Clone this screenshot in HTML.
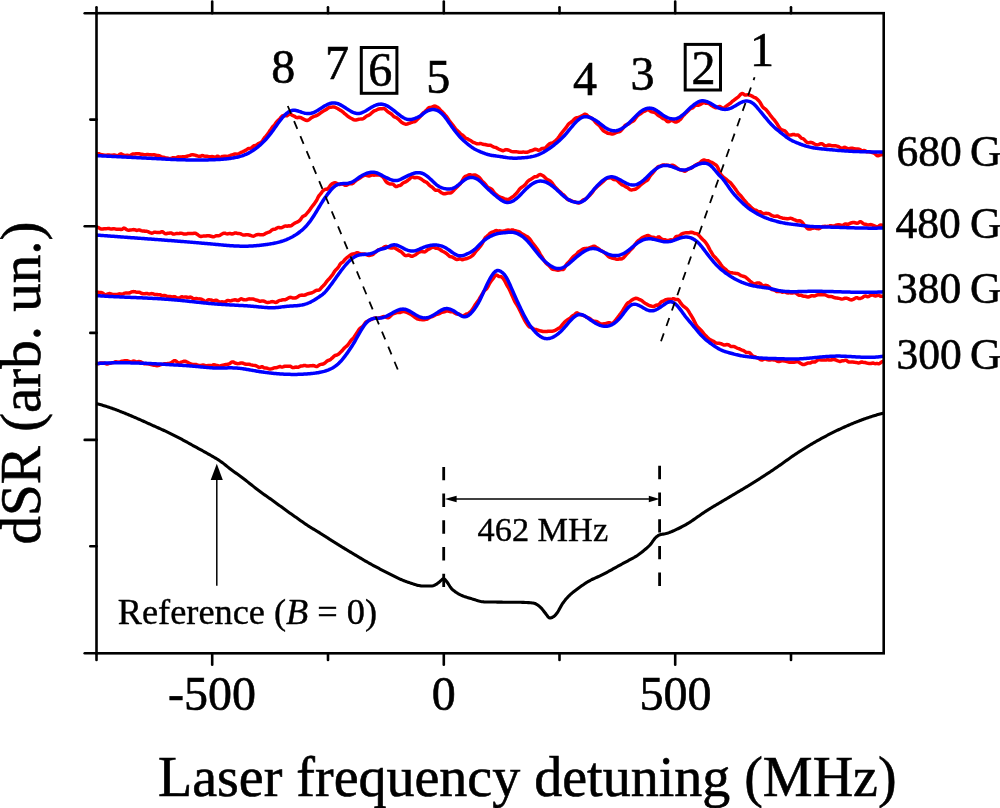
<!DOCTYPE html>
<html><head><meta charset="utf-8"><style>
html,body{margin:0;padding:0;background:#fff;overflow:hidden;}
svg{display:block;}
text{font-family:"Liberation Serif","Times New Roman",serif;fill:#000;stroke:#000;stroke-width:0.6px;}
</style></head><body>
<svg width="1000" height="808" viewBox="0 0 1000 808">
<rect width="1000" height="808" fill="#fff"/>
<g fill="none" stroke-width="3.5" stroke-linejoin="round" stroke-linecap="butt">
<path d="M96.0,153.72 L97.0,153.76 L98.0,153.70 L99.0,153.78 L100.0,154.12 L101.0,154.41 L102.0,154.60 L103.0,154.84 L104.0,155.06 L105.0,155.16 L106.0,155.17 L107.0,155.09 L108.0,154.95 L109.0,154.95 L110.0,155.15 L111.0,155.34 L112.0,155.31 L113.0,155.10 L114.0,154.97 L115.0,155.07 L116.0,155.33 L117.0,155.64 L118.0,155.69 L119.0,155.06 L120.0,154.15 L121.0,153.85 L122.0,154.26 L123.0,154.81 L124.0,155.27 L125.0,155.60 L126.0,155.57 L127.0,155.29 L128.0,155.34 L129.0,155.65 L130.0,155.59 L131.0,155.02 L132.0,154.31 L133.0,153.94 L134.0,153.96 L135.0,153.94 L136.0,153.75 L137.0,153.68 L138.0,153.74 L139.0,153.84 L140.0,154.01 L141.0,154.18 L142.0,154.27 L143.0,154.42 L144.0,154.70 L145.0,154.83 L146.0,154.69 L147.0,154.53 L148.0,154.58 L149.0,154.70 L150.0,154.77 L151.0,154.84 L152.0,154.92 L153.0,154.85 L154.0,154.77 L155.0,154.99 L156.0,155.34 L157.0,155.48 L158.0,155.45 L159.0,155.64 L160.0,156.10 L161.0,156.61 L162.0,156.99 L163.0,157.14 L164.0,157.27 L165.0,157.69 L166.0,158.07 L167.0,158.11 L168.0,158.17 L169.0,158.47 L170.0,158.71 L171.0,158.55 L172.0,158.07 L173.0,157.68 L174.0,157.69 L175.0,157.90 L176.0,157.89 L177.0,157.43 L178.0,156.88 L179.0,156.83 L180.0,157.11 L181.0,157.12 L182.0,156.84 L183.0,156.67 L184.0,156.72 L185.0,156.74 L186.0,156.59 L187.0,156.26 L188.0,155.91 L189.0,155.64 L190.0,155.28 L191.0,154.89 L192.0,154.79 L193.0,154.86 L194.0,154.93 L195.0,155.14 L196.0,155.46 L197.0,155.79 L198.0,156.07 L199.0,156.33 L200.0,156.37 L201.0,156.01 L202.0,155.61 L203.0,155.71 L204.0,156.12 L205.0,156.24 L206.0,156.17 L207.0,156.29 L208.0,156.58 L209.0,156.79 L210.0,156.78 L211.0,156.64 L212.0,156.57 L213.0,156.64 L214.0,156.87 L215.0,157.13 L216.0,156.95 L217.0,156.36 L218.0,156.29 L219.0,157.00 L220.0,157.41 L221.0,157.01 L222.0,156.54 L223.0,156.40 L224.0,156.31 L225.0,156.26 L226.0,156.34 L227.0,156.40 L228.0,156.29 L229.0,156.03 L230.0,155.63 L231.0,155.20 L232.0,154.85 L233.0,154.56 L234.0,154.26 L235.0,154.01 L236.0,154.02 L237.0,154.13 L238.0,153.94 L239.0,153.48 L240.0,152.97 L241.0,152.46 L242.0,152.05 L243.0,151.67 L244.0,151.16 L245.0,150.61 L246.0,150.08 L247.0,149.41 L248.0,148.74 L249.0,148.41 L250.0,148.38 L251.0,148.13 L252.0,147.37 L253.0,146.44 L254.0,145.79 L255.0,145.56 L256.0,145.28 L257.0,144.61 L258.0,143.86 L259.0,143.34 L260.0,142.94 L261.0,142.41 L262.0,141.45 L263.0,140.01 L264.0,138.47 L265.0,137.19 L266.0,136.10 L267.0,134.95 L268.0,133.62 L269.0,132.09 L270.0,130.59 L271.0,129.19 L272.0,127.72 L273.0,126.40 L274.0,125.40 L275.0,124.32 L276.0,122.86 L277.0,121.41 L278.0,120.45 L279.0,119.73 L280.0,118.56 L281.0,117.15 L282.0,116.19 L283.0,115.71 L284.0,115.49 L285.0,115.53 L286.0,115.73 L287.0,115.67 L288.0,115.04 L289.0,114.25 L290.0,114.03 L291.0,114.47 L292.0,115.17 L293.0,115.71 L294.0,116.08 L295.0,116.64 L296.0,117.38 L297.0,117.68 L298.0,117.46 L299.0,117.29 L300.0,117.39 L301.0,117.73 L302.0,118.32 L303.0,118.97 L304.0,119.42 L305.0,119.86 L306.0,120.30 L307.0,120.47 L308.0,120.28 L309.0,119.75 L310.0,118.93 L311.0,118.04 L312.0,117.35 L313.0,116.86 L314.0,116.45 L315.0,116.10 L316.0,115.80 L317.0,115.42 L318.0,114.83 L319.0,114.09 L320.0,113.31 L321.0,112.57 L322.0,111.95 L323.0,111.35 L324.0,110.67 L325.0,110.13 L326.0,109.72 L327.0,109.07 L328.0,108.17 L329.0,107.52 L330.0,107.34 L331.0,107.25 L332.0,107.12 L333.0,107.08 L334.0,107.08 L335.0,107.25 L336.0,107.73 L337.0,108.28 L338.0,108.78 L339.0,109.43 L340.0,110.15 L341.0,110.64 L342.0,111.20 L343.0,112.10 L344.0,113.09 L345.0,113.94 L346.0,114.72 L347.0,115.51 L348.0,116.29 L349.0,117.03 L350.0,117.70 L351.0,118.21 L352.0,118.74 L353.0,119.39 L354.0,119.87 L355.0,120.02 L356.0,119.98 L357.0,119.79 L358.0,119.46 L359.0,119.24 L360.0,119.13 L361.0,119.00 L362.0,118.90 L363.0,118.73 L364.0,118.20 L365.0,117.35 L366.0,116.52 L367.0,115.87 L368.0,115.50 L369.0,115.17 L370.0,114.41 L371.0,113.47 L372.0,112.64 L373.0,111.75 L374.0,111.01 L375.0,110.67 L376.0,110.32 L377.0,109.75 L378.0,109.24 L379.0,108.92 L380.0,108.76 L381.0,108.75 L382.0,108.67 L383.0,108.50 L384.0,108.57 L385.0,109.11 L386.0,109.99 L387.0,110.99 L388.0,111.86 L389.0,112.55 L390.0,113.11 L391.0,113.69 L392.0,114.55 L393.0,115.69 L394.0,116.62 L395.0,117.09 L396.0,117.48 L397.0,118.09 L398.0,118.84 L399.0,119.70 L400.0,120.69 L401.0,121.73 L402.0,122.61 L403.0,123.19 L404.0,123.62 L405.0,123.97 L406.0,124.18 L407.0,124.12 L408.0,123.75 L409.0,123.33 L410.0,123.05 L411.0,122.71 L412.0,122.27 L413.0,121.90 L414.0,121.71 L415.0,121.48 L416.0,120.83 L417.0,119.81 L418.0,118.83 L419.0,117.92 L420.0,116.84 L421.0,115.54 L422.0,114.25 L423.0,113.16 L424.0,112.29 L425.0,111.53 L426.0,110.65 L427.0,109.56 L428.0,108.49 L429.0,107.75 L430.0,107.43 L431.0,107.32 L432.0,107.14 L433.0,106.69 L434.0,106.16 L435.0,106.09 L436.0,106.46 L437.0,106.96 L438.0,107.54 L439.0,108.45 L440.0,109.65 L441.0,110.77 L442.0,111.63 L443.0,112.51 L444.0,113.69 L445.0,114.95 L446.0,115.99 L447.0,117.13 L448.0,118.67 L449.0,120.28 L450.0,121.66 L451.0,122.86 L452.0,124.05 L453.0,125.29 L454.0,126.66 L455.0,128.10 L456.0,129.46 L457.0,130.48 L458.0,131.23 L459.0,132.11 L460.0,133.22 L461.0,134.22 L462.0,134.86 L463.0,135.46 L464.0,136.48 L465.0,137.64 L466.0,138.31 L467.0,138.61 L468.0,139.14 L469.0,139.78 L470.0,140.19 L471.0,140.75 L472.0,141.60 L473.0,142.25 L474.0,142.59 L475.0,142.96 L476.0,143.45 L477.0,143.81 L478.0,143.87 L479.0,143.69 L480.0,143.48 L481.0,143.55 L482.0,143.94 L483.0,144.30 L484.0,144.40 L485.0,144.47 L486.0,144.77 L487.0,145.06 L488.0,145.14 L489.0,145.14 L490.0,145.20 L491.0,145.51 L492.0,146.12 L493.0,146.72 L494.0,147.12 L495.0,147.38 L496.0,147.58 L497.0,148.04 L498.0,148.77 L499.0,149.34 L500.0,149.62 L501.0,150.02 L502.0,150.51 L503.0,150.71 L504.0,150.42 L505.0,149.86 L506.0,149.62 L507.0,149.83 L508.0,150.06 L509.0,150.27 L510.0,150.73 L511.0,151.31 L512.0,151.63 L513.0,151.71 L514.0,151.79 L515.0,151.83 L516.0,151.81 L517.0,151.86 L518.0,152.03 L519.0,152.19 L520.0,152.24 L521.0,152.20 L522.0,152.13 L523.0,152.05 L524.0,152.11 L525.0,152.28 L526.0,152.32 L527.0,152.21 L528.0,152.00 L529.0,151.57 L530.0,151.04 L531.0,150.74 L532.0,150.57 L533.0,150.18 L534.0,149.62 L535.0,149.27 L536.0,149.31 L537.0,149.69 L538.0,150.14 L539.0,150.26 L540.0,149.84 L541.0,149.11 L542.0,148.53 L543.0,148.36 L544.0,148.44 L545.0,148.23 L546.0,147.39 L547.0,146.23 L548.0,145.15 L549.0,144.23 L550.0,143.54 L551.0,143.16 L552.0,142.95 L553.0,142.60 L554.0,141.98 L555.0,141.25 L556.0,140.37 L557.0,139.29 L558.0,138.11 L559.0,136.73 L560.0,135.26 L561.0,133.90 L562.0,132.63 L563.0,131.36 L564.0,130.17 L565.0,128.98 L566.0,127.65 L567.0,126.16 L568.0,124.76 L569.0,123.66 L570.0,122.93 L571.0,122.26 L572.0,121.43 L573.0,120.49 L574.0,119.48 L575.0,118.54 L576.0,117.93 L577.0,117.65 L578.0,117.48 L579.0,117.27 L580.0,116.90 L581.0,116.35 L582.0,115.83 L583.0,115.30 L584.0,114.63 L585.0,114.16 L586.0,114.35 L587.0,115.16 L588.0,116.09 L589.0,116.77 L590.0,117.31 L591.0,117.90 L592.0,118.52 L593.0,119.30 L594.0,120.41 L595.0,121.65 L596.0,122.87 L597.0,123.88 L598.0,124.50 L599.0,125.19 L600.0,126.39 L601.0,127.84 L602.0,129.17 L603.0,130.36 L604.0,131.27 L605.0,131.76 L606.0,132.17 L607.0,132.82 L608.0,133.33 L609.0,133.38 L610.0,133.41 L611.0,133.74 L612.0,134.03 L613.0,133.95 L614.0,133.54 L615.0,133.09 L616.0,132.71 L617.0,132.25 L618.0,131.91 L619.0,131.82 L620.0,131.40 L621.0,130.44 L622.0,129.42 L623.0,128.28 L624.0,126.83 L625.0,125.54 L626.0,124.84 L627.0,124.53 L628.0,124.25 L629.0,123.74 L630.0,122.89 L631.0,122.08 L632.0,121.64 L633.0,121.23 L634.0,120.34 L635.0,119.06 L636.0,117.70 L637.0,116.43 L638.0,115.36 L639.0,114.60 L640.0,114.04 L641.0,113.41 L642.0,112.58 L643.0,111.84 L644.0,111.45 L645.0,111.06 L646.0,110.44 L647.0,109.88 L648.0,109.71 L649.0,110.10 L650.0,110.93 L651.0,111.65 L652.0,111.94 L653.0,112.02 L654.0,112.20 L655.0,112.62 L656.0,113.37 L657.0,114.39 L658.0,115.31 L659.0,115.86 L660.0,116.26 L661.0,116.92 L662.0,117.87 L663.0,118.65 L664.0,118.94 L665.0,119.31 L666.0,120.27 L667.0,121.32 L668.0,121.79 L669.0,121.63 L670.0,121.04 L671.0,120.41 L672.0,120.29 L673.0,120.76 L674.0,121.46 L675.0,121.94 L676.0,122.00 L677.0,121.72 L678.0,121.22 L679.0,120.51 L680.0,119.70 L681.0,118.68 L682.0,117.27 L683.0,115.88 L684.0,114.89 L685.0,113.93 L686.0,112.85 L687.0,111.94 L688.0,111.00 L689.0,109.87 L690.0,108.91 L691.0,108.37 L692.0,108.08 L693.0,107.60 L694.0,106.63 L695.0,105.59 L696.0,105.18 L697.0,105.33 L698.0,105.34 L699.0,104.98 L700.0,104.56 L701.0,104.13 L702.0,103.44 L703.0,102.73 L704.0,102.52 L705.0,102.92 L706.0,103.33 L707.0,103.31 L708.0,103.27 L709.0,103.64 L710.0,104.40 L711.0,105.18 L712.0,105.80 L713.0,106.37 L714.0,106.93 L715.0,107.43 L716.0,107.68 L717.0,107.47 L718.0,106.94 L719.0,106.57 L720.0,106.62 L721.0,107.08 L722.0,107.76 L723.0,108.25 L724.0,108.01 L725.0,107.21 L726.0,106.46 L727.0,105.74 L728.0,104.90 L729.0,104.23 L730.0,103.60 L731.0,102.67 L732.0,101.70 L733.0,100.93 L734.0,100.23 L735.0,99.45 L736.0,98.64 L737.0,97.86 L738.0,97.09 L739.0,96.18 L740.0,95.06 L741.0,94.02 L742.0,93.51 L743.0,93.70 L744.0,94.39 L745.0,95.00 L746.0,95.09 L747.0,94.86 L748.0,94.77 L749.0,94.98 L750.0,95.29 L751.0,95.58 L752.0,96.03 L753.0,96.72 L754.0,97.31 L755.0,97.65 L756.0,98.13 L757.0,98.97 L758.0,100.00 L759.0,101.01 L760.0,102.29 L761.0,104.10 L762.0,105.95 L763.0,107.31 L764.0,108.18 L765.0,108.79 L766.0,109.58 L767.0,110.77 L768.0,112.06 L769.0,113.39 L770.0,114.87 L771.0,116.22 L772.0,117.40 L773.0,118.55 L774.0,119.71 L775.0,120.95 L776.0,122.29 L777.0,123.76 L778.0,125.41 L779.0,127.11 L780.0,128.50 L781.0,129.34 L782.0,129.82 L783.0,130.24 L784.0,130.57 L785.0,130.96 L786.0,131.95 L787.0,133.34 L788.0,134.43 L789.0,134.97 L790.0,135.13 L791.0,135.05 L792.0,134.73 L793.0,134.44 L794.0,134.51 L795.0,134.89 L796.0,135.12 L797.0,134.95 L798.0,134.88 L799.0,135.57 L800.0,136.82 L801.0,137.84 L802.0,138.31 L803.0,138.62 L804.0,139.35 L805.0,140.44 L806.0,141.48 L807.0,142.33 L808.0,142.74 L809.0,142.64 L810.0,142.41 L811.0,142.37 L812.0,142.59 L813.0,143.05 L814.0,143.64 L815.0,144.24 L816.0,144.72 L817.0,144.87 L818.0,144.68 L819.0,144.34 L820.0,143.95 L821.0,143.71 L822.0,143.84 L823.0,144.39 L824.0,145.16 L825.0,145.73 L826.0,145.84 L827.0,145.60 L828.0,145.28 L829.0,145.07 L830.0,145.17 L831.0,145.51 L832.0,145.72 L833.0,145.74 L834.0,145.70 L835.0,145.71 L836.0,145.85 L837.0,146.09 L838.0,146.37 L839.0,146.88 L840.0,147.59 L841.0,148.14 L842.0,148.20 L843.0,147.82 L844.0,147.41 L845.0,147.36 L846.0,147.76 L847.0,148.41 L848.0,148.84 L849.0,148.77 L850.0,148.48 L851.0,148.34 L852.0,148.30 L853.0,148.37 L854.0,148.61 L855.0,148.83 L856.0,148.90 L857.0,148.97 L858.0,149.05 L859.0,149.17 L860.0,149.56 L861.0,150.20 L862.0,150.73 L863.0,150.79 L864.0,150.53 L865.0,150.67 L866.0,151.34 L867.0,151.79 L868.0,151.75 L869.0,151.71 L870.0,151.91 L871.0,152.18 L872.0,152.43 L873.0,152.74 L874.0,153.15 L875.0,153.81 L876.0,154.74 L877.0,155.54 L878.0,155.79 L879.0,155.55 L880.0,155.05 L881.0,154.62 L882.0,154.56 L883.0,154.76 L884.0,154.81" stroke="#ff0000"/>
<path d="M96.0,155.63 L97.0,155.66 L98.0,155.70 L99.0,155.75 L100.0,155.80 L101.0,155.85 L102.0,155.90 L103.0,155.95 L104.0,156.00 L105.0,156.05 L106.0,156.10 L107.0,156.15 L108.0,156.20 L109.0,156.25 L110.0,156.30 L111.0,156.35 L112.0,156.40 L113.0,156.45 L114.0,156.50 L115.0,156.55 L116.0,156.60 L117.0,156.65 L118.0,156.70 L119.0,156.75 L120.0,156.80 L121.0,156.85 L122.0,156.90 L123.0,156.95 L124.0,157.00 L125.0,157.05 L126.0,157.10 L127.0,157.15 L128.0,157.20 L129.0,157.25 L130.0,157.30 L131.0,157.35 L132.0,157.40 L133.0,157.45 L134.0,157.50 L135.0,157.55 L136.0,157.60 L137.0,157.65 L138.0,157.70 L139.0,157.75 L140.0,157.80 L141.0,157.84 L142.0,157.89 L143.0,157.94 L144.0,157.99 L145.0,158.04 L146.0,158.09 L147.0,158.14 L148.0,158.19 L149.0,158.24 L150.0,158.29 L151.0,158.34 L152.0,158.39 L153.0,158.44 L154.0,158.50 L155.0,158.55 L156.0,158.60 L157.0,158.65 L158.0,158.71 L159.0,158.76 L160.0,158.82 L161.0,158.87 L162.0,158.92 L163.0,158.98 L164.0,159.03 L165.0,159.08 L166.0,159.13 L167.0,159.19 L168.0,159.24 L169.0,159.29 L170.0,159.34 L171.0,159.38 L172.0,159.43 L173.0,159.47 L174.0,159.52 L175.0,159.56 L176.0,159.60 L177.0,159.64 L178.0,159.67 L179.0,159.71 L180.0,159.74 L181.0,159.77 L182.0,159.80 L183.0,159.82 L184.0,159.85 L185.0,159.87 L186.0,159.89 L187.0,159.91 L188.0,159.93 L189.0,159.94 L190.0,159.95 L191.0,159.97 L192.0,159.98 L193.0,159.98 L194.0,159.99 L195.0,160.00 L196.0,160.00 L197.0,160.00 L198.0,160.00 L199.0,160.00 L200.0,159.99 L201.0,159.98 L202.0,159.98 L203.0,159.97 L204.0,159.95 L205.0,159.94 L206.0,159.92 L207.0,159.90 L208.0,159.88 L209.0,159.85 L210.0,159.82 L211.0,159.79 L212.0,159.76 L213.0,159.72 L214.0,159.68 L215.0,159.64 L216.0,159.60 L217.0,159.55 L218.0,159.49 L219.0,159.44 L220.0,159.38 L221.0,159.31 L222.0,159.24 L223.0,159.16 L224.0,159.08 L225.0,158.98 L226.0,158.89 L227.0,158.78 L228.0,158.66 L229.0,158.54 L230.0,158.41 L231.0,158.26 L232.0,158.11 L233.0,157.95 L234.0,157.77 L235.0,157.58 L236.0,157.39 L237.0,157.17 L238.0,156.94 L239.0,156.70 L240.0,156.43 L241.0,156.15 L242.0,155.84 L243.0,155.50 L244.0,155.14 L245.0,154.74 L246.0,154.32 L247.0,153.86 L248.0,153.37 L249.0,152.84 L250.0,152.29 L251.0,151.70 L252.0,151.08 L253.0,150.43 L254.0,149.76 L255.0,149.05 L256.0,148.32 L257.0,147.56 L258.0,146.77 L259.0,145.95 L260.0,145.10 L261.0,144.21 L262.0,143.29 L263.0,142.33 L264.0,141.34 L265.0,140.30 L266.0,139.22 L267.0,138.10 L268.0,136.94 L269.0,135.72 L270.0,134.46 L271.0,133.15 L272.0,131.79 L273.0,130.40 L274.0,128.99 L275.0,127.56 L276.0,126.14 L277.0,124.72 L278.0,123.32 L279.0,121.96 L280.0,120.63 L281.0,119.36 L282.0,118.14 L283.0,116.98 L284.0,115.89 L285.0,114.87 L286.0,113.93 L287.0,113.08 L288.0,112.33 L289.0,111.69 L290.0,111.16 L291.0,110.76 L292.0,110.49 L293.0,110.33 L294.0,110.29 L295.0,110.35 L296.0,110.50 L297.0,110.72 L298.0,111.00 L299.0,111.32 L300.0,111.66 L301.0,112.00 L302.0,112.34 L303.0,112.65 L304.0,112.93 L305.0,113.18 L306.0,113.38 L307.0,113.52 L308.0,113.59 L309.0,113.58 L310.0,113.50 L311.0,113.32 L312.0,113.07 L313.0,112.73 L314.0,112.32 L315.0,111.86 L316.0,111.33 L317.0,110.77 L318.0,110.17 L319.0,109.55 L320.0,108.90 L321.0,108.26 L322.0,107.61 L323.0,106.98 L324.0,106.36 L325.0,105.77 L326.0,105.22 L327.0,104.70 L328.0,104.24 L329.0,103.83 L330.0,103.49 L331.0,103.22 L332.0,103.03 L333.0,102.92 L334.0,102.91 L335.0,102.99 L336.0,103.16 L337.0,103.41 L338.0,103.74 L339.0,104.14 L340.0,104.60 L341.0,105.12 L342.0,105.68 L343.0,106.28 L344.0,106.90 L345.0,107.55 L346.0,108.20 L347.0,108.86 L348.0,109.51 L349.0,110.15 L350.0,110.76 L351.0,111.33 L352.0,111.86 L353.0,112.33 L354.0,112.73 L355.0,113.05 L356.0,113.29 L357.0,113.44 L358.0,113.48 L359.0,113.42 L360.0,113.25 L361.0,113.00 L362.0,112.65 L363.0,112.24 L364.0,111.76 L365.0,111.24 L366.0,110.67 L367.0,110.07 L368.0,109.46 L369.0,108.83 L370.0,108.22 L371.0,107.61 L372.0,107.02 L373.0,106.47 L374.0,105.95 L375.0,105.49 L376.0,105.07 L377.0,104.72 L378.0,104.44 L379.0,104.25 L380.0,104.13 L381.0,104.11 L382.0,104.18 L383.0,104.35 L384.0,104.60 L385.0,104.94 L386.0,105.35 L387.0,105.83 L388.0,106.37 L389.0,106.97 L390.0,107.62 L391.0,108.32 L392.0,109.06 L393.0,109.83 L394.0,110.62 L395.0,111.43 L396.0,112.25 L397.0,113.08 L398.0,113.89 L399.0,114.68 L400.0,115.45 L401.0,116.18 L402.0,116.86 L403.0,117.48 L404.0,118.04 L405.0,118.52 L406.0,118.92 L407.0,119.22 L408.0,119.43 L409.0,119.52 L410.0,119.52 L411.0,119.42 L412.0,119.24 L413.0,119.00 L414.0,118.69 L415.0,118.35 L416.0,117.98 L417.0,117.59 L418.0,117.17 L419.0,116.70 L420.0,116.15 L421.0,115.50 L422.0,114.76 L423.0,113.97 L424.0,113.17 L425.0,112.41 L426.0,111.73 L427.0,111.15 L428.0,110.67 L429.0,110.27 L430.0,109.96 L431.0,109.72 L432.0,109.57 L433.0,109.51 L434.0,109.55 L435.0,109.70 L436.0,109.96 L437.0,110.32 L438.0,110.79 L439.0,111.38 L440.0,112.07 L441.0,112.88 L442.0,113.79 L443.0,114.81 L444.0,115.94 L445.0,117.16 L446.0,118.46 L447.0,119.83 L448.0,121.24 L449.0,122.68 L450.0,124.11 L451.0,125.53 L452.0,126.93 L453.0,128.30 L454.0,129.64 L455.0,130.96 L456.0,132.25 L457.0,133.50 L458.0,134.70 L459.0,135.87 L460.0,136.98 L461.0,138.03 L462.0,139.04 L463.0,140.01 L464.0,140.93 L465.0,141.81 L466.0,142.67 L467.0,143.50 L468.0,144.31 L469.0,145.09 L470.0,145.86 L471.0,146.61 L472.0,147.32 L473.0,148.00 L474.0,148.64 L475.0,149.23 L476.0,149.78 L477.0,150.29 L478.0,150.76 L479.0,151.21 L480.0,151.64 L481.0,152.06 L482.0,152.47 L483.0,152.86 L484.0,153.23 L485.0,153.59 L486.0,153.93 L487.0,154.24 L488.0,154.53 L489.0,154.79 L490.0,155.03 L491.0,155.23 L492.0,155.42 L493.0,155.58 L494.0,155.73 L495.0,155.86 L496.0,155.99 L497.0,156.12 L498.0,156.24 L499.0,156.37 L500.0,156.51 L501.0,156.66 L502.0,156.82 L503.0,156.98 L504.0,157.15 L505.0,157.31 L506.0,157.47 L507.0,157.62 L508.0,157.76 L509.0,157.87 L510.0,157.97 L511.0,158.05 L512.0,158.11 L513.0,158.15 L514.0,158.16 L515.0,158.16 L516.0,158.15 L517.0,158.13 L518.0,158.09 L519.0,158.05 L520.0,157.99 L521.0,157.94 L522.0,157.87 L523.0,157.80 L524.0,157.72 L525.0,157.63 L526.0,157.53 L527.0,157.42 L528.0,157.29 L529.0,157.14 L530.0,156.98 L531.0,156.79 L532.0,156.59 L533.0,156.36 L534.0,156.10 L535.0,155.82 L536.0,155.51 L537.0,155.17 L538.0,154.80 L539.0,154.40 L540.0,153.96 L541.0,153.49 L542.0,152.98 L543.0,152.45 L544.0,151.88 L545.0,151.29 L546.0,150.67 L547.0,150.03 L548.0,149.36 L549.0,148.68 L550.0,147.98 L551.0,147.27 L552.0,146.53 L553.0,145.79 L554.0,145.02 L555.0,144.23 L556.0,143.43 L557.0,142.60 L558.0,141.75 L559.0,140.87 L560.0,139.97 L561.0,139.04 L562.0,138.07 L563.0,137.07 L564.0,136.03 L565.0,134.95 L566.0,133.82 L567.0,132.65 L568.0,131.45 L569.0,130.23 L570.0,129.00 L571.0,127.76 L572.0,126.54 L573.0,125.34 L574.0,124.18 L575.0,123.07 L576.0,122.02 L577.0,121.05 L578.0,120.15 L579.0,119.33 L580.0,118.61 L581.0,117.99 L582.0,117.47 L583.0,117.07 L584.0,116.80 L585.0,116.65 L586.0,116.63 L587.0,116.72 L588.0,116.92 L589.0,117.21 L590.0,117.56 L591.0,117.97 L592.0,118.42 L593.0,118.92 L594.0,119.46 L595.0,120.04 L596.0,120.66 L597.0,121.32 L598.0,122.02 L599.0,122.76 L600.0,123.54 L601.0,124.34 L602.0,125.15 L603.0,125.94 L604.0,126.71 L605.0,127.41 L606.0,128.05 L607.0,128.62 L608.0,129.12 L609.0,129.56 L610.0,129.95 L611.0,130.28 L612.0,130.56 L613.0,130.76 L614.0,130.86 L615.0,130.87 L616.0,130.77 L617.0,130.56 L618.0,130.26 L619.0,129.88 L620.0,129.45 L621.0,128.95 L622.0,128.41 L623.0,127.81 L624.0,127.15 L625.0,126.42 L626.0,125.63 L627.0,124.78 L628.0,123.88 L629.0,122.94 L630.0,121.99 L631.0,121.01 L632.0,120.03 L633.0,119.03 L634.0,118.01 L635.0,116.98 L636.0,115.95 L637.0,114.92 L638.0,113.92 L639.0,112.98 L640.0,112.11 L641.0,111.33 L642.0,110.64 L643.0,110.04 L644.0,109.52 L645.0,109.08 L646.0,108.72 L647.0,108.44 L648.0,108.24 L649.0,108.13 L650.0,108.12 L651.0,108.21 L652.0,108.41 L653.0,108.71 L654.0,109.11 L655.0,109.60 L656.0,110.17 L657.0,110.82 L658.0,111.51 L659.0,112.25 L660.0,113.00 L661.0,113.75 L662.0,114.48 L663.0,115.18 L664.0,115.83 L665.0,116.42 L666.0,116.95 L667.0,117.41 L668.0,117.81 L669.0,118.15 L670.0,118.44 L671.0,118.68 L672.0,118.85 L673.0,118.95 L674.0,118.96 L675.0,118.87 L676.0,118.68 L677.0,118.38 L678.0,117.98 L679.0,117.49 L680.0,116.91 L681.0,116.26 L682.0,115.53 L683.0,114.73 L684.0,113.86 L685.0,112.94 L686.0,111.98 L687.0,110.98 L688.0,109.99 L689.0,109.01 L690.0,108.07 L691.0,107.17 L692.0,106.33 L693.0,105.53 L694.0,104.76 L695.0,104.02 L696.0,103.31 L697.0,102.65 L698.0,102.05 L699.0,101.54 L700.0,101.16 L701.0,100.91 L702.0,100.78 L703.0,100.78 L704.0,100.89 L705.0,101.08 L706.0,101.35 L707.0,101.69 L708.0,102.09 L709.0,102.55 L710.0,103.05 L711.0,103.60 L712.0,104.18 L713.0,104.78 L714.0,105.38 L715.0,105.97 L716.0,106.54 L717.0,107.08 L718.0,107.58 L719.0,108.03 L720.0,108.43 L721.0,108.77 L722.0,109.04 L723.0,109.24 L724.0,109.36 L725.0,109.40 L726.0,109.36 L727.0,109.24 L728.0,109.04 L729.0,108.77 L730.0,108.43 L731.0,108.03 L732.0,107.58 L733.0,107.08 L734.0,106.54 L735.0,105.98 L736.0,105.39 L737.0,104.79 L738.0,104.19 L739.0,103.60 L740.0,103.04 L741.0,102.52 L742.0,102.05 L743.0,101.66 L744.0,101.34 L745.0,101.12 L746.0,101.01 L747.0,101.01 L748.0,101.12 L749.0,101.35 L750.0,101.68 L751.0,102.13 L752.0,102.70 L753.0,103.39 L754.0,104.20 L755.0,105.13 L756.0,106.18 L757.0,107.31 L758.0,108.51 L759.0,109.74 L760.0,110.98 L761.0,112.20 L762.0,113.42 L763.0,114.62 L764.0,115.81 L765.0,117.01 L766.0,118.22 L767.0,119.43 L768.0,120.63 L769.0,121.80 L770.0,122.95 L771.0,124.05 L772.0,125.10 L773.0,126.10 L774.0,127.05 L775.0,127.95 L776.0,128.81 L777.0,129.63 L778.0,130.43 L779.0,131.22 L780.0,132.01 L781.0,132.80 L782.0,133.60 L783.0,134.40 L784.0,135.20 L785.0,135.98 L786.0,136.74 L787.0,137.47 L788.0,138.17 L789.0,138.83 L790.0,139.45 L791.0,140.03 L792.0,140.56 L793.0,141.06 L794.0,141.53 L795.0,141.98 L796.0,142.41 L797.0,142.82 L798.0,143.22 L799.0,143.61 L800.0,143.99 L801.0,144.37 L802.0,144.74 L803.0,145.09 L804.0,145.44 L805.0,145.77 L806.0,146.08 L807.0,146.37 L808.0,146.64 L809.0,146.89 L810.0,147.13 L811.0,147.35 L812.0,147.55 L813.0,147.74 L814.0,147.91 L815.0,148.07 L816.0,148.22 L817.0,148.35 L818.0,148.48 L819.0,148.60 L820.0,148.71 L821.0,148.82 L822.0,148.92 L823.0,149.02 L824.0,149.11 L825.0,149.21 L826.0,149.30 L827.0,149.39 L828.0,149.48 L829.0,149.58 L830.0,149.67 L831.0,149.76 L832.0,149.85 L833.0,149.94 L834.0,150.03 L835.0,150.12 L836.0,150.21 L837.0,150.30 L838.0,150.39 L839.0,150.47 L840.0,150.55 L841.0,150.63 L842.0,150.71 L843.0,150.79 L844.0,150.86 L845.0,150.93 L846.0,151.00 L847.0,151.06 L848.0,151.12 L849.0,151.18 L850.0,151.24 L851.0,151.29 L852.0,151.34 L853.0,151.39 L854.0,151.43 L855.0,151.47 L856.0,151.51 L857.0,151.55 L858.0,151.59 L859.0,151.62 L860.0,151.65 L861.0,151.68 L862.0,151.71 L863.0,151.73 L864.0,151.76 L865.0,151.78 L866.0,151.80 L867.0,151.82 L868.0,151.84 L869.0,151.85 L870.0,151.87 L871.0,151.88 L872.0,151.89 L873.0,151.91 L874.0,151.92 L875.0,151.93 L876.0,151.94 L877.0,151.95 L878.0,151.96 L879.0,151.96 L880.0,151.97 L881.0,151.98 L882.0,151.99 L883.0,151.99 L884.0,152.00" stroke="#0000ff"/>
<path d="M96.0,227.85 L97.0,227.63 L98.0,227.47 L99.0,227.80 L100.0,228.55 L101.0,229.02 L102.0,229.01 L103.0,228.91 L104.0,228.83 L105.0,228.79 L106.0,228.78 L107.0,228.64 L108.0,228.47 L109.0,228.51 L110.0,228.74 L111.0,228.92 L112.0,228.91 L113.0,228.79 L114.0,228.74 L115.0,228.88 L116.0,229.16 L117.0,229.34 L118.0,229.33 L119.0,229.23 L120.0,229.30 L121.0,229.55 L122.0,229.37 L123.0,228.62 L124.0,228.11 L125.0,228.42 L126.0,229.18 L127.0,229.83 L128.0,230.15 L129.0,230.17 L130.0,230.03 L131.0,229.91 L132.0,229.84 L133.0,229.72 L134.0,229.60 L135.0,229.79 L136.0,230.25 L137.0,230.42 L138.0,230.10 L139.0,229.87 L140.0,230.15 L141.0,230.65 L142.0,230.93 L143.0,230.94 L144.0,230.97 L145.0,231.22 L146.0,231.34 L147.0,231.32 L148.0,231.61 L149.0,232.11 L150.0,232.58 L151.0,233.01 L152.0,233.14 L153.0,232.77 L154.0,232.29 L155.0,232.17 L156.0,232.33 L157.0,232.46 L158.0,232.54 L159.0,232.61 L160.0,232.45 L161.0,231.98 L162.0,231.64 L163.0,231.98 L164.0,232.86 L165.0,233.59 L166.0,233.79 L167.0,233.56 L168.0,233.32 L169.0,233.21 L170.0,233.05 L171.0,232.98 L172.0,233.36 L173.0,233.93 L174.0,234.10 L175.0,233.87 L176.0,233.60 L177.0,233.56 L178.0,233.62 L179.0,233.51 L180.0,233.29 L181.0,233.21 L182.0,233.37 L183.0,233.71 L184.0,233.97 L185.0,234.02 L186.0,233.97 L187.0,233.78 L188.0,233.56 L189.0,233.46 L190.0,233.52 L191.0,233.59 L192.0,233.53 L193.0,233.40 L194.0,233.29 L195.0,233.27 L196.0,233.52 L197.0,234.14 L198.0,234.95 L199.0,235.67 L200.0,236.22 L201.0,236.43 L202.0,236.27 L203.0,236.11 L204.0,236.09 L205.0,236.02 L206.0,235.91 L207.0,235.76 L208.0,235.64 L209.0,235.70 L210.0,235.96 L211.0,236.21 L212.0,236.49 L213.0,236.81 L214.0,236.75 L215.0,236.28 L216.0,235.81 L217.0,235.64 L218.0,235.69 L219.0,235.66 L220.0,235.29 L221.0,234.62 L222.0,233.96 L223.0,233.46 L224.0,233.18 L225.0,233.25 L226.0,233.60 L227.0,233.89 L228.0,233.85 L229.0,233.57 L230.0,233.49 L231.0,233.71 L232.0,233.92 L233.0,233.77 L234.0,233.36 L235.0,233.02 L236.0,233.01 L237.0,233.26 L238.0,233.47 L239.0,233.53 L240.0,233.63 L241.0,233.97 L242.0,234.49 L243.0,234.94 L244.0,235.10 L245.0,234.97 L246.0,234.79 L247.0,234.74 L248.0,234.80 L249.0,234.98 L250.0,235.26 L251.0,235.59 L252.0,235.94 L253.0,236.15 L254.0,235.99 L255.0,235.47 L256.0,234.94 L257.0,234.65 L258.0,234.51 L259.0,234.52 L260.0,234.70 L261.0,234.82 L262.0,234.85 L263.0,234.80 L264.0,234.46 L265.0,233.80 L266.0,233.18 L267.0,232.78 L268.0,232.41 L269.0,232.03 L270.0,231.58 L271.0,230.81 L272.0,229.93 L273.0,229.40 L274.0,229.27 L275.0,229.20 L276.0,228.74 L277.0,227.97 L278.0,227.48 L279.0,227.47 L280.0,227.71 L281.0,227.83 L282.0,227.58 L283.0,227.00 L284.0,226.39 L285.0,226.05 L286.0,226.11 L287.0,226.19 L288.0,225.97 L289.0,225.82 L290.0,225.93 L291.0,225.82 L292.0,225.17 L293.0,224.37 L294.0,223.67 L295.0,223.02 L296.0,222.52 L297.0,222.12 L298.0,221.64 L299.0,221.04 L300.0,220.22 L301.0,218.91 L302.0,217.35 L303.0,216.30 L304.0,215.90 L305.0,215.48 L306.0,214.52 L307.0,213.26 L308.0,212.04 L309.0,210.88 L310.0,209.54 L311.0,208.03 L312.0,206.66 L313.0,205.48 L314.0,204.15 L315.0,202.72 L316.0,201.31 L317.0,199.53 L318.0,197.45 L319.0,195.76 L320.0,194.62 L321.0,193.43 L322.0,191.97 L323.0,190.76 L324.0,189.97 L325.0,189.40 L326.0,189.18 L327.0,189.14 L328.0,188.58 L329.0,187.33 L330.0,185.93 L331.0,184.72 L332.0,183.84 L333.0,183.33 L334.0,182.95 L335.0,182.70 L336.0,182.89 L337.0,183.48 L338.0,184.07 L339.0,184.42 L340.0,184.43 L341.0,184.12 L342.0,183.85 L343.0,184.03 L344.0,184.65 L345.0,185.20 L346.0,185.31 L347.0,184.97 L348.0,184.42 L349.0,183.92 L350.0,183.66 L351.0,183.73 L352.0,183.80 L353.0,183.28 L354.0,182.24 L355.0,181.27 L356.0,180.52 L357.0,179.89 L358.0,179.28 L359.0,178.61 L360.0,177.94 L361.0,177.30 L362.0,176.63 L363.0,175.94 L364.0,175.44 L365.0,175.25 L366.0,175.30 L367.0,175.49 L368.0,175.78 L369.0,175.93 L370.0,175.70 L371.0,175.29 L372.0,175.04 L373.0,175.05 L374.0,175.14 L375.0,175.05 L376.0,174.97 L377.0,175.09 L378.0,175.04 L379.0,174.88 L380.0,175.11 L381.0,175.62 L382.0,176.21 L383.0,177.10 L384.0,178.42 L385.0,179.98 L386.0,181.49 L387.0,182.59 L388.0,183.22 L389.0,183.66 L390.0,183.97 L391.0,184.01 L392.0,183.93 L393.0,184.17 L394.0,185.01 L395.0,186.04 L396.0,186.60 L397.0,186.46 L398.0,185.96 L399.0,185.62 L400.0,185.42 L401.0,184.88 L402.0,183.90 L403.0,183.00 L404.0,182.51 L405.0,182.20 L406.0,181.67 L407.0,180.96 L408.0,180.26 L409.0,179.45 L410.0,178.45 L411.0,177.49 L412.0,176.93 L413.0,177.05 L414.0,177.58 L415.0,177.80 L416.0,177.57 L417.0,177.48 L418.0,177.63 L419.0,177.86 L420.0,178.26 L421.0,178.91 L422.0,179.69 L423.0,180.41 L424.0,181.12 L425.0,181.71 L426.0,182.09 L427.0,182.64 L428.0,183.69 L429.0,184.91 L430.0,185.82 L431.0,186.42 L432.0,187.08 L433.0,187.99 L434.0,189.00 L435.0,189.86 L436.0,190.34 L437.0,190.31 L438.0,190.23 L439.0,190.68 L440.0,191.58 L441.0,192.41 L442.0,193.04 L443.0,193.55 L444.0,193.85 L445.0,193.76 L446.0,193.45 L447.0,193.23 L448.0,193.07 L449.0,192.97 L450.0,193.02 L451.0,192.85 L452.0,192.16 L453.0,191.10 L454.0,189.97 L455.0,188.91 L456.0,187.96 L457.0,187.04 L458.0,186.06 L459.0,185.07 L460.0,184.05 L461.0,182.77 L462.0,181.19 L463.0,179.45 L464.0,177.76 L465.0,176.62 L466.0,176.16 L467.0,175.84 L468.0,175.27 L469.0,174.73 L470.0,174.66 L471.0,174.95 L472.0,175.18 L473.0,175.16 L474.0,175.02 L475.0,175.02 L476.0,175.35 L477.0,175.95 L478.0,176.55 L479.0,177.16 L480.0,178.17 L481.0,179.64 L482.0,181.02 L483.0,181.97 L484.0,182.78 L485.0,183.84 L486.0,185.17 L487.0,186.48 L488.0,187.42 L489.0,187.88 L490.0,188.19 L491.0,188.71 L492.0,189.61 L493.0,190.91 L494.0,192.34 L495.0,193.45 L496.0,194.35 L497.0,195.26 L498.0,195.94 L499.0,196.47 L500.0,197.07 L501.0,197.52 L502.0,197.76 L503.0,198.13 L504.0,198.66 L505.0,198.97 L506.0,199.12 L507.0,199.42 L508.0,199.56 L509.0,199.22 L510.0,198.60 L511.0,197.86 L512.0,197.15 L513.0,196.56 L514.0,195.80 L515.0,194.78 L516.0,193.74 L517.0,192.64 L518.0,191.33 L519.0,189.94 L520.0,188.70 L521.0,187.77 L522.0,187.05 L523.0,186.34 L524.0,185.68 L525.0,184.85 L526.0,183.58 L527.0,182.18 L528.0,181.08 L529.0,180.32 L530.0,179.74 L531.0,179.18 L532.0,178.60 L533.0,177.86 L534.0,177.11 L535.0,176.72 L536.0,176.66 L537.0,176.48 L538.0,175.78 L539.0,174.92 L540.0,174.52 L541.0,174.75 L542.0,175.28 L543.0,175.83 L544.0,176.49 L545.0,177.46 L546.0,178.57 L547.0,179.38 L548.0,179.80 L549.0,180.26 L550.0,180.91 L551.0,181.73 L552.0,182.86 L553.0,184.30 L554.0,185.74 L555.0,186.91 L556.0,187.98 L557.0,189.10 L558.0,190.10 L559.0,190.96 L560.0,191.80 L561.0,192.73 L562.0,193.73 L563.0,194.55 L564.0,195.23 L565.0,196.18 L566.0,197.51 L567.0,198.81 L568.0,199.65 L569.0,199.97 L570.0,200.19 L571.0,200.57 L572.0,201.07 L573.0,201.44 L574.0,201.64 L575.0,201.90 L576.0,202.27 L577.0,202.64 L578.0,202.92 L579.0,202.98 L580.0,202.64 L581.0,201.90 L582.0,200.96 L583.0,200.12 L584.0,199.57 L585.0,199.21 L586.0,198.69 L587.0,197.83 L588.0,196.88 L589.0,195.96 L590.0,194.92 L591.0,193.84 L592.0,192.73 L593.0,191.35 L594.0,189.84 L595.0,188.71 L596.0,187.85 L597.0,186.84 L598.0,185.78 L599.0,184.97 L600.0,184.27 L601.0,183.43 L602.0,182.55 L603.0,181.62 L604.0,180.65 L605.0,179.72 L606.0,178.88 L607.0,178.23 L608.0,177.97 L609.0,177.94 L610.0,177.84 L611.0,177.85 L612.0,178.36 L613.0,179.15 L614.0,179.60 L615.0,179.64 L616.0,179.73 L617.0,180.29 L618.0,181.24 L619.0,182.19 L620.0,183.12 L621.0,184.12 L622.0,184.81 L623.0,185.16 L624.0,185.60 L625.0,186.27 L626.0,186.90 L627.0,187.37 L628.0,187.97 L629.0,188.81 L630.0,189.55 L631.0,189.92 L632.0,189.89 L633.0,189.63 L634.0,189.44 L635.0,189.28 L636.0,188.84 L637.0,188.10 L638.0,187.30 L639.0,186.52 L640.0,185.62 L641.0,184.62 L642.0,183.73 L643.0,183.01 L644.0,182.28 L645.0,181.57 L646.0,181.00 L647.0,180.42 L648.0,179.44 L649.0,177.88 L650.0,176.21 L651.0,174.92 L652.0,173.85 L653.0,172.71 L654.0,171.44 L655.0,170.18 L656.0,168.99 L657.0,167.83 L658.0,166.89 L659.0,166.43 L660.0,166.28 L661.0,165.96 L662.0,165.39 L663.0,164.96 L664.0,164.92 L665.0,165.09 L666.0,165.17 L667.0,165.12 L668.0,165.22 L669.0,165.52 L670.0,165.65 L671.0,165.47 L672.0,165.27 L673.0,165.35 L674.0,165.79 L675.0,166.47 L676.0,167.19 L677.0,167.90 L678.0,168.62 L679.0,169.32 L680.0,169.85 L681.0,170.07 L682.0,170.15 L683.0,170.50 L684.0,171.07 L685.0,171.24 L686.0,170.76 L687.0,169.91 L688.0,169.05 L689.0,168.57 L690.0,168.51 L691.0,168.25 L692.0,167.55 L693.0,166.81 L694.0,166.12 L695.0,165.37 L696.0,164.75 L697.0,164.21 L698.0,163.67 L699.0,163.25 L700.0,162.64 L701.0,161.65 L702.0,160.75 L703.0,160.22 L704.0,160.03 L705.0,160.27 L706.0,160.68 L707.0,160.74 L708.0,160.68 L709.0,161.10 L710.0,161.79 L711.0,162.23 L712.0,162.51 L713.0,163.04 L714.0,163.77 L715.0,164.41 L716.0,165.02 L717.0,166.12 L718.0,167.98 L719.0,170.36 L720.0,172.81 L721.0,174.73 L722.0,175.85 L723.0,176.72 L724.0,177.66 L725.0,178.41 L726.0,179.05 L727.0,179.94 L728.0,180.92 L729.0,181.62 L730.0,182.27 L731.0,183.26 L732.0,184.56 L733.0,185.93 L734.0,187.19 L735.0,188.47 L736.0,189.87 L737.0,191.36 L738.0,192.84 L739.0,194.04 L740.0,194.94 L741.0,195.96 L742.0,197.33 L743.0,198.72 L744.0,199.90 L745.0,201.02 L746.0,202.21 L747.0,203.42 L748.0,204.44 L749.0,205.29 L750.0,206.18 L751.0,207.14 L752.0,208.09 L753.0,208.99 L754.0,209.65 L755.0,209.97 L756.0,210.26 L757.0,210.86 L758.0,211.52 L759.0,211.71 L760.0,211.68 L761.0,212.18 L762.0,213.08 L763.0,213.64 L764.0,213.65 L765.0,213.43 L766.0,213.30 L767.0,213.43 L768.0,213.58 L769.0,213.71 L770.0,214.24 L771.0,215.08 L772.0,215.64 L773.0,215.91 L774.0,216.22 L775.0,216.38 L776.0,216.16 L777.0,215.99 L778.0,216.28 L779.0,216.87 L780.0,217.38 L781.0,217.64 L782.0,217.93 L783.0,218.25 L784.0,218.37 L785.0,218.44 L786.0,218.61 L787.0,218.72 L788.0,218.70 L789.0,218.57 L790.0,218.36 L791.0,218.31 L792.0,218.61 L793.0,219.10 L794.0,219.53 L795.0,219.93 L796.0,220.44 L797.0,220.92 L798.0,220.97 L799.0,220.75 L800.0,220.84 L801.0,221.28 L802.0,222.10 L803.0,223.32 L804.0,224.57 L805.0,225.68 L806.0,226.85 L807.0,228.00 L808.0,228.75 L809.0,228.99 L810.0,228.92 L811.0,228.71 L812.0,228.42 L813.0,228.16 L814.0,228.02 L815.0,228.05 L816.0,228.24 L817.0,228.46 L818.0,228.65 L819.0,228.71 L820.0,228.26 L821.0,227.41 L822.0,226.81 L823.0,226.56 L824.0,226.39 L825.0,226.33 L826.0,226.42 L827.0,226.45 L828.0,226.33 L829.0,226.08 L830.0,225.80 L831.0,225.78 L832.0,226.01 L833.0,226.06 L834.0,225.86 L835.0,225.57 L836.0,225.17 L837.0,224.88 L838.0,224.80 L839.0,224.77 L840.0,224.91 L841.0,225.28 L842.0,225.52 L843.0,225.26 L844.0,224.58 L845.0,224.02 L846.0,224.00 L847.0,224.32 L848.0,224.36 L849.0,223.90 L850.0,223.36 L851.0,223.00 L852.0,222.67 L853.0,222.44 L854.0,222.50 L855.0,222.77 L856.0,223.08 L857.0,223.30 L858.0,223.13 L859.0,222.42 L860.0,221.70 L861.0,221.75 L862.0,222.55 L863.0,223.52 L864.0,224.11 L865.0,224.24 L866.0,224.36 L867.0,224.68 L868.0,224.90 L869.0,224.84 L870.0,224.67 L871.0,224.61 L872.0,224.87 L873.0,225.30 L874.0,225.71 L875.0,226.19 L876.0,226.65 L877.0,226.84 L878.0,226.62 L879.0,225.95 L880.0,225.21 L881.0,224.98 L882.0,225.16 L883.0,225.20 L884.0,224.97" stroke="#ff0000"/>
<path d="M96.0,235.04 L97.0,235.09 L98.0,235.16 L99.0,235.23 L100.0,235.31 L101.0,235.39 L102.0,235.46 L103.0,235.54 L104.0,235.62 L105.0,235.69 L106.0,235.77 L107.0,235.85 L108.0,235.92 L109.0,236.00 L110.0,236.07 L111.0,236.15 L112.0,236.22 L113.0,236.30 L114.0,236.37 L115.0,236.45 L116.0,236.52 L117.0,236.60 L118.0,236.67 L119.0,236.75 L120.0,236.82 L121.0,236.90 L122.0,236.97 L123.0,237.04 L124.0,237.12 L125.0,237.19 L126.0,237.26 L127.0,237.34 L128.0,237.41 L129.0,237.49 L130.0,237.56 L131.0,237.63 L132.0,237.71 L133.0,237.78 L134.0,237.85 L135.0,237.93 L136.0,238.00 L137.0,238.07 L138.0,238.15 L139.0,238.22 L140.0,238.29 L141.0,238.37 L142.0,238.44 L143.0,238.51 L144.0,238.59 L145.0,238.66 L146.0,238.74 L147.0,238.81 L148.0,238.88 L149.0,238.96 L150.0,239.03 L151.0,239.10 L152.0,239.18 L153.0,239.25 L154.0,239.33 L155.0,239.40 L156.0,239.48 L157.0,239.55 L158.0,239.63 L159.0,239.70 L160.0,239.78 L161.0,239.85 L162.0,239.93 L163.0,240.00 L164.0,240.08 L165.0,240.15 L166.0,240.23 L167.0,240.31 L168.0,240.38 L169.0,240.46 L170.0,240.54 L171.0,240.61 L172.0,240.69 L173.0,240.77 L174.0,240.84 L175.0,240.92 L176.0,241.00 L177.0,241.08 L178.0,241.16 L179.0,241.24 L180.0,241.31 L181.0,241.39 L182.0,241.47 L183.0,241.55 L184.0,241.63 L185.0,241.71 L186.0,241.80 L187.0,241.88 L188.0,241.96 L189.0,242.04 L190.0,242.12 L191.0,242.20 L192.0,242.29 L193.0,242.37 L194.0,242.45 L195.0,242.54 L196.0,242.62 L197.0,242.71 L198.0,242.79 L199.0,242.88 L200.0,242.96 L201.0,243.05 L202.0,243.14 L203.0,243.22 L204.0,243.31 L205.0,243.40 L206.0,243.49 L207.0,243.58 L208.0,243.67 L209.0,243.76 L210.0,243.85 L211.0,243.94 L212.0,244.03 L213.0,244.12 L214.0,244.21 L215.0,244.31 L216.0,244.40 L217.0,244.49 L218.0,244.59 L219.0,244.68 L220.0,244.78 L221.0,244.87 L222.0,244.96 L223.0,245.05 L224.0,245.14 L225.0,245.23 L226.0,245.32 L227.0,245.40 L228.0,245.48 L229.0,245.56 L230.0,245.63 L231.0,245.70 L232.0,245.77 L233.0,245.83 L234.0,245.89 L235.0,245.95 L236.0,245.99 L237.0,246.04 L238.0,246.08 L239.0,246.11 L240.0,246.14 L241.0,246.16 L242.0,246.17 L243.0,246.18 L244.0,246.18 L245.0,246.18 L246.0,246.17 L247.0,246.16 L248.0,246.13 L249.0,246.10 L250.0,246.07 L251.0,246.02 L252.0,245.97 L253.0,245.91 L254.0,245.85 L255.0,245.77 L256.0,245.69 L257.0,245.60 L258.0,245.51 L259.0,245.40 L260.0,245.30 L261.0,245.18 L262.0,245.06 L263.0,244.94 L264.0,244.81 L265.0,244.67 L266.0,244.54 L267.0,244.40 L268.0,244.25 L269.0,244.11 L270.0,243.95 L271.0,243.79 L272.0,243.63 L273.0,243.45 L274.0,243.26 L275.0,243.06 L276.0,242.85 L277.0,242.62 L278.0,242.38 L279.0,242.12 L280.0,241.84 L281.0,241.54 L282.0,241.23 L283.0,240.90 L284.0,240.54 L285.0,240.17 L286.0,239.78 L287.0,239.36 L288.0,238.93 L289.0,238.48 L290.0,238.00 L291.0,237.50 L292.0,236.98 L293.0,236.43 L294.0,235.85 L295.0,235.25 L296.0,234.62 L297.0,233.95 L298.0,233.26 L299.0,232.52 L300.0,231.76 L301.0,230.95 L302.0,230.10 L303.0,229.21 L304.0,228.27 L305.0,227.28 L306.0,226.23 L307.0,225.12 L308.0,223.95 L309.0,222.71 L310.0,221.40 L311.0,220.02 L312.0,218.57 L313.0,217.06 L314.0,215.49 L315.0,213.88 L316.0,212.24 L317.0,210.57 L318.0,208.90 L319.0,207.23 L320.0,205.58 L321.0,203.95 L322.0,202.35 L323.0,200.79 L324.0,199.28 L325.0,197.81 L326.0,196.39 L327.0,195.00 L328.0,193.65 L329.0,192.35 L330.0,191.09 L331.0,189.89 L332.0,188.78 L333.0,187.75 L334.0,186.85 L335.0,186.06 L336.0,185.40 L337.0,184.86 L338.0,184.44 L339.0,184.12 L340.0,183.89 L341.0,183.75 L342.0,183.66 L343.0,183.62 L344.0,183.60 L345.0,183.57 L346.0,183.52 L347.0,183.43 L348.0,183.28 L349.0,183.06 L350.0,182.78 L351.0,182.42 L352.0,181.99 L353.0,181.49 L354.0,180.93 L355.0,180.31 L356.0,179.64 L357.0,178.93 L358.0,178.22 L359.0,177.50 L360.0,176.81 L361.0,176.16 L362.0,175.55 L363.0,174.99 L364.0,174.49 L365.0,174.03 L366.0,173.63 L367.0,173.27 L368.0,172.95 L369.0,172.68 L370.0,172.46 L371.0,172.30 L372.0,172.20 L373.0,172.18 L374.0,172.25 L375.0,172.41 L376.0,172.65 L377.0,172.98 L378.0,173.39 L379.0,173.84 L380.0,174.34 L381.0,174.86 L382.0,175.40 L383.0,175.93 L384.0,176.45 L385.0,176.97 L386.0,177.47 L387.0,177.95 L388.0,178.42 L389.0,178.87 L390.0,179.30 L391.0,179.68 L392.0,180.02 L393.0,180.29 L394.0,180.48 L395.0,180.58 L396.0,180.57 L397.0,180.46 L398.0,180.25 L399.0,179.96 L400.0,179.58 L401.0,179.15 L402.0,178.68 L403.0,178.19 L404.0,177.68 L405.0,177.16 L406.0,176.65 L407.0,176.15 L408.0,175.66 L409.0,175.18 L410.0,174.73 L411.0,174.30 L412.0,173.91 L413.0,173.56 L414.0,173.25 L415.0,173.00 L416.0,172.81 L417.0,172.68 L418.0,172.63 L419.0,172.66 L420.0,172.77 L421.0,172.96 L422.0,173.25 L423.0,173.63 L424.0,174.11 L425.0,174.68 L426.0,175.35 L427.0,176.09 L428.0,176.90 L429.0,177.77 L430.0,178.68 L431.0,179.62 L432.0,180.58 L433.0,181.55 L434.0,182.49 L435.0,183.41 L436.0,184.28 L437.0,185.08 L438.0,185.80 L439.0,186.43 L440.0,186.97 L441.0,187.44 L442.0,187.83 L443.0,188.16 L444.0,188.43 L445.0,188.65 L446.0,188.83 L447.0,188.97 L448.0,189.04 L449.0,189.05 L450.0,188.98 L451.0,188.83 L452.0,188.59 L453.0,188.24 L454.0,187.81 L455.0,187.28 L456.0,186.67 L457.0,185.99 L458.0,185.25 L459.0,184.46 L460.0,183.63 L461.0,182.78 L462.0,181.94 L463.0,181.12 L464.0,180.34 L465.0,179.64 L466.0,179.02 L467.0,178.50 L468.0,178.09 L469.0,177.78 L470.0,177.58 L471.0,177.49 L472.0,177.50 L473.0,177.61 L474.0,177.82 L475.0,178.12 L476.0,178.53 L477.0,179.03 L478.0,179.62 L479.0,180.31 L480.0,181.10 L481.0,181.97 L482.0,182.91 L483.0,183.90 L484.0,184.92 L485.0,185.95 L486.0,186.97 L487.0,187.97 L488.0,188.94 L489.0,189.89 L490.0,190.80 L491.0,191.70 L492.0,192.58 L493.0,193.45 L494.0,194.30 L495.0,195.15 L496.0,196.00 L497.0,196.83 L498.0,197.65 L499.0,198.45 L500.0,199.21 L501.0,199.91 L502.0,200.56 L503.0,201.13 L504.0,201.61 L505.0,201.99 L506.0,202.26 L507.0,202.42 L508.0,202.45 L509.0,202.37 L510.0,202.18 L511.0,201.87 L512.0,201.47 L513.0,200.96 L514.0,200.37 L515.0,199.68 L516.0,198.92 L517.0,198.08 L518.0,197.17 L519.0,196.22 L520.0,195.22 L521.0,194.19 L522.0,193.15 L523.0,192.10 L524.0,191.06 L525.0,190.04 L526.0,189.05 L527.0,188.09 L528.0,187.18 L529.0,186.32 L530.0,185.52 L531.0,184.77 L532.0,184.08 L533.0,183.45 L534.0,182.89 L535.0,182.40 L536.0,181.98 L537.0,181.64 L538.0,181.38 L539.0,181.19 L540.0,181.10 L541.0,181.08 L542.0,181.15 L543.0,181.31 L544.0,181.53 L545.0,181.84 L546.0,182.21 L547.0,182.65 L548.0,183.16 L549.0,183.72 L550.0,184.34 L551.0,185.01 L552.0,185.73 L553.0,186.50 L554.0,187.31 L555.0,188.15 L556.0,189.03 L557.0,189.94 L558.0,190.86 L559.0,191.80 L560.0,192.74 L561.0,193.68 L562.0,194.59 L563.0,195.49 L564.0,196.35 L565.0,197.17 L566.0,197.93 L567.0,198.65 L568.0,199.30 L569.0,199.89 L570.0,200.42 L571.0,200.89 L572.0,201.30 L573.0,201.65 L574.0,201.94 L575.0,202.16 L576.0,202.33 L577.0,202.43 L578.0,202.45 L579.0,202.39 L580.0,202.24 L581.0,201.99 L582.0,201.62 L583.0,201.13 L584.0,200.51 L585.0,199.74 L586.0,198.84 L587.0,197.80 L588.0,196.66 L589.0,195.45 L590.0,194.21 L591.0,192.96 L592.0,191.73 L593.0,190.52 L594.0,189.34 L595.0,188.19 L596.0,187.07 L597.0,185.99 L598.0,184.93 L599.0,183.92 L600.0,182.94 L601.0,182.02 L602.0,181.14 L603.0,180.33 L604.0,179.59 L605.0,178.92 L606.0,178.33 L607.0,177.83 L608.0,177.42 L609.0,177.11 L610.0,176.91 L611.0,176.82 L612.0,176.83 L613.0,176.94 L614.0,177.15 L615.0,177.44 L616.0,177.81 L617.0,178.23 L618.0,178.71 L619.0,179.22 L620.0,179.77 L621.0,180.33 L622.0,180.91 L623.0,181.47 L624.0,182.03 L625.0,182.56 L626.0,183.07 L627.0,183.53 L628.0,183.95 L629.0,184.31 L630.0,184.61 L631.0,184.84 L632.0,184.98 L633.0,185.04 L634.0,185.00 L635.0,184.87 L636.0,184.63 L637.0,184.30 L638.0,183.88 L639.0,183.38 L640.0,182.79 L641.0,182.13 L642.0,181.41 L643.0,180.62 L644.0,179.78 L645.0,178.89 L646.0,177.96 L647.0,177.00 L648.0,176.03 L649.0,175.04 L650.0,174.06 L651.0,173.09 L652.0,172.15 L653.0,171.24 L654.0,170.38 L655.0,169.57 L656.0,168.83 L657.0,168.16 L658.0,167.55 L659.0,167.02 L660.0,166.56 L661.0,166.18 L662.0,165.87 L663.0,165.63 L664.0,165.48 L665.0,165.40 L666.0,165.39 L667.0,165.46 L668.0,165.60 L669.0,165.79 L670.0,166.04 L671.0,166.33 L672.0,166.66 L673.0,167.03 L674.0,167.41 L675.0,167.81 L676.0,168.21 L677.0,168.61 L678.0,168.98 L679.0,169.32 L680.0,169.62 L681.0,169.85 L682.0,170.01 L683.0,170.09 L684.0,170.07 L685.0,169.97 L686.0,169.78 L687.0,169.50 L688.0,169.16 L689.0,168.77 L690.0,168.32 L691.0,167.84 L692.0,167.34 L693.0,166.83 L694.0,166.31 L695.0,165.80 L696.0,165.31 L697.0,164.85 L698.0,164.43 L699.0,164.05 L700.0,163.72 L701.0,163.45 L702.0,163.25 L703.0,163.13 L704.0,163.10 L705.0,163.16 L706.0,163.32 L707.0,163.60 L708.0,163.99 L709.0,164.50 L710.0,165.15 L711.0,165.93 L712.0,166.85 L713.0,167.90 L714.0,169.04 L715.0,170.26 L716.0,171.50 L717.0,172.71 L718.0,173.87 L719.0,174.94 L720.0,175.94 L721.0,176.91 L722.0,177.95 L723.0,179.10 L724.0,180.37 L725.0,181.74 L726.0,183.17 L727.0,184.63 L728.0,186.08 L729.0,187.52 L730.0,188.92 L731.0,190.28 L732.0,191.60 L733.0,192.86 L734.0,194.08 L735.0,195.26 L736.0,196.38 L737.0,197.47 L738.0,198.53 L739.0,199.55 L740.0,200.55 L741.0,201.53 L742.0,202.49 L743.0,203.44 L744.0,204.38 L745.0,205.29 L746.0,206.16 L747.0,207.00 L748.0,207.80 L749.0,208.55 L750.0,209.26 L751.0,209.94 L752.0,210.60 L753.0,211.24 L754.0,211.85 L755.0,212.46 L756.0,213.05 L757.0,213.63 L758.0,214.19 L759.0,214.74 L760.0,215.27 L761.0,215.78 L762.0,216.26 L763.0,216.73 L764.0,217.17 L765.0,217.59 L766.0,217.98 L767.0,218.36 L768.0,218.72 L769.0,219.07 L770.0,219.39 L771.0,219.71 L772.0,220.02 L773.0,220.32 L774.0,220.61 L775.0,220.89 L776.0,221.17 L777.0,221.44 L778.0,221.71 L779.0,221.96 L780.0,222.20 L781.0,222.44 L782.0,222.66 L783.0,222.87 L784.0,223.07 L785.0,223.25 L786.0,223.42 L787.0,223.58 L788.0,223.73 L789.0,223.87 L790.0,224.01 L791.0,224.13 L792.0,224.26 L793.0,224.37 L794.0,224.49 L795.0,224.60 L796.0,224.72 L797.0,224.84 L798.0,224.96 L799.0,225.08 L800.0,225.21 L801.0,225.34 L802.0,225.47 L803.0,225.61 L804.0,225.74 L805.0,225.87 L806.0,225.99 L807.0,226.10 L808.0,226.20 L809.0,226.30 L810.0,226.38 L811.0,226.46 L812.0,226.53 L813.0,226.59 L814.0,226.64 L815.0,226.69 L816.0,226.73 L817.0,226.77 L818.0,226.81 L819.0,226.84 L820.0,226.87 L821.0,226.89 L822.0,226.91 L823.0,226.94 L824.0,226.96 L825.0,226.98 L826.0,227.00 L827.0,227.02 L828.0,227.05 L829.0,227.07 L830.0,227.10 L831.0,227.13 L832.0,227.15 L833.0,227.18 L834.0,227.21 L835.0,227.24 L836.0,227.27 L837.0,227.31 L838.0,227.34 L839.0,227.37 L840.0,227.40 L841.0,227.44 L842.0,227.47 L843.0,227.50 L844.0,227.53 L845.0,227.57 L846.0,227.60 L847.0,227.63 L848.0,227.66 L849.0,227.70 L850.0,227.73 L851.0,227.76 L852.0,227.79 L853.0,227.82 L854.0,227.85 L855.0,227.88 L856.0,227.90 L857.0,227.93 L858.0,227.95 L859.0,227.98 L860.0,228.00 L861.0,228.02 L862.0,228.04 L863.0,228.06 L864.0,228.08 L865.0,228.10 L866.0,228.11 L867.0,228.12 L868.0,228.13 L869.0,228.14 L870.0,228.15 L871.0,228.15 L872.0,228.16 L873.0,228.16 L874.0,228.15 L875.0,228.15 L876.0,228.14 L877.0,228.13 L878.0,228.12 L879.0,228.11 L880.0,228.09 L881.0,228.07 L882.0,228.05 L883.0,228.03 L884.0,228.02" stroke="#0000ff"/>
<path d="M96.0,292.56 L97.0,292.23 L98.0,292.18 L99.0,292.42 L100.0,292.57 L101.0,292.57 L102.0,292.67 L103.0,293.25 L104.0,294.25 L105.0,294.98 L106.0,294.88 L107.0,294.31 L108.0,293.84 L109.0,293.60 L110.0,293.61 L111.0,293.87 L112.0,294.21 L113.0,294.41 L114.0,294.46 L115.0,294.44 L116.0,294.52 L117.0,294.58 L118.0,294.30 L119.0,293.90 L120.0,293.86 L121.0,294.10 L122.0,294.14 L123.0,293.78 L124.0,293.39 L125.0,293.12 L126.0,292.90 L127.0,292.91 L128.0,293.10 L129.0,293.10 L130.0,292.76 L131.0,292.19 L132.0,291.77 L133.0,291.67 L134.0,291.62 L135.0,291.71 L136.0,292.09 L137.0,292.33 L138.0,292.22 L139.0,292.16 L140.0,292.49 L141.0,293.07 L142.0,293.58 L143.0,293.79 L144.0,293.79 L145.0,293.67 L146.0,293.48 L147.0,293.48 L148.0,293.77 L149.0,293.97 L150.0,293.89 L151.0,293.71 L152.0,293.61 L153.0,293.76 L154.0,294.20 L155.0,294.46 L156.0,294.45 L157.0,294.54 L158.0,294.73 L159.0,294.76 L160.0,294.75 L161.0,295.11 L162.0,295.66 L163.0,295.74 L164.0,295.48 L165.0,295.55 L166.0,295.98 L167.0,296.39 L168.0,296.54 L169.0,296.45 L170.0,296.42 L171.0,296.64 L172.0,296.90 L173.0,296.82 L174.0,296.60 L175.0,296.80 L176.0,297.43 L177.0,297.94 L178.0,298.08 L179.0,297.92 L180.0,297.49 L181.0,297.00 L182.0,296.81 L183.0,296.99 L184.0,297.13 L185.0,297.01 L186.0,297.00 L187.0,297.28 L188.0,297.54 L189.0,297.42 L190.0,297.08 L191.0,297.14 L192.0,297.80 L193.0,298.53 L194.0,298.78 L195.0,298.66 L196.0,298.54 L197.0,298.61 L198.0,298.77 L199.0,298.87 L200.0,298.91 L201.0,299.07 L202.0,299.43 L203.0,299.98 L204.0,300.70 L205.0,301.33 L206.0,301.35 L207.0,300.68 L208.0,299.91 L209.0,299.67 L210.0,299.85 L211.0,300.03 L212.0,300.29 L213.0,300.73 L214.0,300.83 L215.0,300.45 L216.0,300.21 L217.0,300.48 L218.0,301.11 L219.0,301.76 L220.0,302.02 L221.0,301.89 L222.0,301.77 L223.0,301.89 L224.0,302.06 L225.0,301.93 L226.0,301.41 L227.0,300.76 L228.0,300.45 L229.0,300.64 L230.0,300.94 L231.0,300.87 L232.0,300.47 L233.0,300.15 L234.0,299.93 L235.0,299.76 L236.0,299.91 L237.0,300.41 L238.0,300.61 L239.0,300.08 L240.0,299.27 L241.0,298.81 L242.0,298.96 L243.0,299.48 L244.0,299.84 L245.0,299.86 L246.0,299.72 L247.0,299.49 L248.0,299.13 L249.0,298.86 L250.0,298.88 L251.0,299.02 L252.0,299.05 L253.0,299.06 L254.0,299.26 L255.0,299.66 L256.0,300.03 L257.0,300.25 L258.0,300.55 L259.0,301.01 L260.0,301.30 L261.0,301.17 L262.0,300.89 L263.0,300.92 L264.0,301.21 L265.0,301.64 L266.0,302.11 L267.0,302.41 L268.0,302.46 L269.0,302.36 L270.0,302.15 L271.0,301.83 L272.0,301.61 L273.0,301.64 L274.0,301.91 L275.0,302.28 L276.0,302.40 L277.0,302.01 L278.0,301.26 L279.0,300.64 L280.0,300.37 L281.0,300.18 L282.0,299.96 L283.0,299.85 L284.0,299.86 L285.0,299.75 L286.0,299.40 L287.0,298.88 L288.0,298.23 L289.0,297.63 L290.0,297.32 L291.0,297.38 L292.0,297.71 L293.0,297.98 L294.0,298.04 L295.0,298.01 L296.0,297.82 L297.0,297.31 L298.0,296.57 L299.0,295.86 L300.0,295.38 L301.0,295.15 L302.0,295.08 L303.0,295.17 L304.0,295.27 L305.0,295.08 L306.0,294.57 L307.0,294.06 L308.0,293.73 L309.0,293.47 L310.0,293.26 L311.0,293.05 L312.0,292.74 L313.0,292.27 L314.0,291.70 L315.0,291.07 L316.0,290.53 L317.0,290.28 L318.0,290.27 L319.0,290.11 L320.0,289.34 L321.0,288.13 L322.0,287.03 L323.0,286.06 L324.0,285.03 L325.0,283.88 L326.0,282.50 L327.0,281.13 L328.0,280.06 L329.0,279.04 L330.0,277.83 L331.0,276.58 L332.0,275.40 L333.0,273.98 L334.0,272.30 L335.0,270.80 L336.0,269.67 L337.0,268.74 L338.0,267.67 L339.0,266.12 L340.0,264.43 L341.0,263.24 L342.0,262.58 L343.0,261.84 L344.0,260.65 L345.0,259.38 L346.0,258.40 L347.0,257.69 L348.0,256.95 L349.0,256.06 L350.0,255.26 L351.0,254.67 L352.0,254.20 L353.0,253.95 L354.0,253.86 L355.0,253.56 L356.0,253.05 L357.0,252.69 L358.0,252.79 L359.0,253.25 L360.0,253.71 L361.0,253.96 L362.0,254.02 L363.0,253.99 L364.0,254.05 L365.0,254.28 L366.0,254.56 L367.0,254.88 L368.0,255.26 L369.0,255.42 L370.0,255.21 L371.0,254.96 L372.0,254.83 L373.0,254.42 L374.0,253.53 L375.0,252.57 L376.0,251.77 L377.0,250.94 L378.0,250.12 L379.0,249.64 L380.0,249.30 L381.0,248.91 L382.0,248.50 L383.0,247.93 L384.0,247.21 L385.0,246.58 L386.0,246.33 L387.0,246.61 L388.0,247.12 L389.0,247.50 L390.0,247.80 L391.0,248.00 L392.0,247.98 L393.0,247.75 L394.0,247.69 L395.0,248.16 L396.0,248.82 L397.0,249.35 L398.0,249.95 L399.0,250.64 L400.0,251.14 L401.0,251.67 L402.0,252.56 L403.0,253.61 L404.0,254.54 L405.0,255.31 L406.0,255.66 L407.0,255.43 L408.0,255.06 L409.0,255.15 L410.0,255.69 L411.0,256.18 L412.0,256.24 L413.0,255.95 L414.0,255.50 L415.0,255.01 L416.0,254.40 L417.0,253.63 L418.0,252.84 L419.0,252.24 L420.0,251.85 L421.0,251.57 L422.0,251.49 L423.0,251.66 L424.0,251.89 L425.0,251.81 L426.0,251.11 L427.0,250.20 L428.0,249.54 L429.0,249.06 L430.0,248.60 L431.0,248.02 L432.0,247.28 L433.0,246.92 L434.0,247.30 L435.0,247.91 L436.0,248.21 L437.0,248.25 L438.0,248.46 L439.0,248.96 L440.0,249.53 L441.0,250.26 L442.0,251.01 L443.0,251.52 L444.0,251.97 L445.0,252.57 L446.0,253.21 L447.0,253.91 L448.0,254.86 L449.0,255.91 L450.0,256.55 L451.0,256.70 L452.0,256.89 L453.0,257.42 L454.0,258.04 L455.0,258.65 L456.0,259.20 L457.0,259.47 L458.0,259.30 L459.0,258.91 L460.0,258.80 L461.0,259.24 L462.0,259.70 L463.0,259.55 L464.0,259.11 L465.0,258.89 L466.0,258.80 L467.0,258.48 L468.0,258.03 L469.0,257.67 L470.0,257.25 L471.0,256.60 L472.0,255.89 L473.0,255.10 L474.0,253.96 L475.0,252.52 L476.0,251.17 L477.0,250.07 L478.0,249.02 L479.0,247.88 L480.0,246.68 L481.0,245.38 L482.0,243.82 L483.0,241.89 L484.0,239.76 L485.0,238.03 L486.0,237.02 L487.0,236.29 L488.0,235.39 L489.0,234.34 L490.0,233.32 L491.0,232.56 L492.0,232.25 L493.0,232.09 L494.0,231.62 L495.0,230.93 L496.0,230.58 L497.0,230.77 L498.0,231.01 L499.0,230.93 L500.0,230.84 L501.0,231.05 L502.0,231.22 L503.0,231.13 L504.0,230.92 L505.0,230.71 L506.0,230.43 L507.0,230.14 L508.0,230.06 L509.0,230.24 L510.0,230.35 L511.0,230.13 L512.0,229.87 L513.0,230.02 L514.0,230.35 L515.0,230.60 L516.0,230.91 L517.0,231.25 L518.0,231.45 L519.0,231.69 L520.0,232.31 L521.0,233.18 L522.0,233.88 L523.0,234.32 L524.0,234.83 L525.0,235.51 L526.0,236.09 L527.0,236.52 L528.0,237.19 L529.0,238.21 L530.0,239.40 L531.0,240.78 L532.0,242.27 L533.0,243.66 L534.0,244.92 L535.0,246.17 L536.0,247.45 L537.0,248.80 L538.0,250.23 L539.0,251.95 L540.0,253.82 L541.0,255.47 L542.0,256.98 L543.0,258.62 L544.0,260.28 L545.0,261.77 L546.0,263.08 L547.0,264.10 L548.0,264.84 L549.0,265.62 L550.0,266.73 L551.0,267.96 L552.0,268.88 L553.0,269.29 L554.0,269.39 L555.0,269.55 L556.0,269.83 L557.0,270.11 L558.0,270.27 L559.0,270.13 L560.0,269.74 L561.0,269.49 L562.0,269.53 L563.0,269.53 L564.0,268.80 L565.0,267.18 L566.0,265.27 L567.0,263.73 L568.0,262.70 L569.0,261.73 L570.0,260.60 L571.0,259.36 L572.0,258.11 L573.0,257.04 L574.0,256.12 L575.0,255.35 L576.0,254.66 L577.0,253.67 L578.0,252.40 L579.0,251.47 L580.0,250.94 L581.0,250.30 L582.0,249.54 L583.0,249.00 L584.0,248.70 L585.0,248.52 L586.0,248.42 L587.0,248.37 L588.0,248.26 L589.0,247.95 L590.0,247.54 L591.0,247.21 L592.0,246.87 L593.0,246.41 L594.0,246.19 L595.0,246.53 L596.0,247.21 L597.0,247.86 L598.0,248.38 L599.0,248.99 L600.0,249.82 L601.0,250.61 L602.0,251.15 L603.0,251.65 L604.0,252.31 L605.0,253.11 L606.0,254.03 L607.0,255.06 L608.0,256.13 L609.0,256.93 L610.0,257.32 L611.0,257.62 L612.0,258.00 L613.0,258.27 L614.0,258.39 L615.0,258.66 L616.0,259.10 L617.0,259.37 L618.0,259.23 L619.0,258.91 L620.0,258.80 L621.0,258.91 L622.0,258.79 L623.0,258.15 L624.0,257.17 L625.0,256.03 L626.0,254.84 L627.0,253.78 L628.0,252.82 L629.0,251.74 L630.0,250.49 L631.0,249.40 L632.0,248.55 L633.0,247.48 L634.0,246.01 L635.0,244.53 L636.0,243.21 L637.0,241.94 L638.0,240.86 L639.0,240.10 L640.0,239.46 L641.0,238.74 L642.0,237.95 L643.0,237.25 L644.0,236.83 L645.0,236.48 L646.0,236.02 L647.0,235.63 L648.0,235.50 L649.0,235.81 L650.0,236.45 L651.0,236.96 L652.0,237.18 L653.0,237.26 L654.0,237.42 L655.0,237.91 L656.0,238.33 L657.0,237.95 L658.0,237.07 L659.0,236.84 L660.0,237.67 L661.0,238.72 L662.0,239.27 L663.0,239.49 L664.0,239.63 L665.0,239.78 L666.0,240.10 L667.0,240.42 L668.0,240.47 L669.0,240.25 L670.0,239.97 L671.0,239.84 L672.0,239.90 L673.0,239.93 L674.0,239.30 L675.0,237.90 L676.0,236.67 L677.0,236.29 L678.0,236.37 L679.0,236.20 L680.0,235.46 L681.0,234.47 L682.0,233.78 L683.0,233.40 L684.0,233.09 L685.0,232.88 L686.0,232.78 L687.0,232.79 L688.0,232.82 L689.0,232.72 L690.0,232.43 L691.0,232.19 L692.0,232.28 L693.0,232.67 L694.0,233.16 L695.0,233.50 L696.0,233.61 L697.0,233.80 L698.0,234.43 L699.0,235.45 L700.0,236.59 L701.0,237.74 L702.0,238.88 L703.0,239.82 L704.0,240.62 L705.0,241.67 L706.0,243.08 L707.0,244.55 L708.0,246.15 L709.0,248.10 L710.0,250.03 L711.0,251.72 L712.0,253.47 L713.0,255.15 L714.0,256.32 L715.0,257.21 L716.0,258.30 L717.0,259.52 L718.0,260.63 L719.0,261.86 L720.0,263.35 L721.0,264.82 L722.0,266.11 L723.0,267.27 L724.0,268.21 L725.0,268.91 L726.0,269.71 L727.0,270.74 L728.0,271.63 L729.0,272.19 L730.0,272.52 L731.0,272.67 L732.0,272.81 L733.0,272.99 L734.0,273.14 L735.0,273.27 L736.0,273.39 L737.0,273.46 L738.0,273.66 L739.0,274.26 L740.0,275.07 L741.0,275.64 L742.0,275.94 L743.0,276.22 L744.0,276.50 L745.0,276.82 L746.0,277.44 L747.0,278.32 L748.0,279.23 L749.0,280.11 L750.0,280.99 L751.0,281.82 L752.0,282.68 L753.0,283.48 L754.0,283.91 L755.0,283.86 L756.0,283.48 L757.0,283.08 L758.0,282.91 L759.0,282.98 L760.0,283.36 L761.0,284.20 L762.0,285.23 L763.0,285.83 L764.0,285.76 L765.0,285.43 L766.0,285.35 L767.0,285.59 L768.0,286.10 L769.0,286.85 L770.0,287.85 L771.0,288.86 L772.0,289.54 L773.0,289.85 L774.0,290.00 L775.0,290.41 L776.0,291.11 L777.0,291.52 L778.0,291.42 L779.0,291.21 L780.0,291.30 L781.0,291.75 L782.0,292.15 L783.0,292.13 L784.0,291.89 L785.0,291.96 L786.0,292.42 L787.0,292.86 L788.0,292.91 L789.0,292.72 L790.0,292.72 L791.0,292.95 L792.0,293.03 L793.0,292.90 L794.0,292.69 L795.0,292.64 L796.0,293.07 L797.0,293.89 L798.0,294.75 L799.0,295.27 L800.0,295.27 L801.0,295.22 L802.0,295.59 L803.0,296.13 L804.0,296.30 L805.0,296.22 L806.0,296.41 L807.0,296.88 L808.0,297.06 L809.0,296.79 L810.0,296.39 L811.0,295.98 L812.0,295.66 L813.0,295.80 L814.0,296.08 L815.0,295.85 L816.0,295.32 L817.0,294.99 L818.0,294.86 L819.0,294.75 L820.0,294.71 L821.0,294.73 L822.0,294.74 L823.0,294.72 L824.0,294.67 L825.0,294.82 L826.0,295.24 L827.0,295.77 L828.0,296.27 L829.0,296.51 L830.0,296.45 L831.0,296.38 L832.0,296.59 L833.0,297.05 L834.0,297.53 L835.0,297.83 L836.0,297.96 L837.0,298.02 L838.0,298.15 L839.0,298.35 L840.0,298.59 L841.0,298.94 L842.0,299.12 L843.0,298.90 L844.0,298.55 L845.0,298.30 L846.0,298.24 L847.0,298.36 L848.0,298.65 L849.0,299.10 L850.0,299.61 L851.0,299.93 L852.0,299.84 L853.0,299.45 L854.0,298.91 L855.0,298.29 L856.0,297.77 L857.0,297.70 L858.0,298.15 L859.0,298.55 L860.0,298.47 L861.0,298.16 L862.0,297.80 L863.0,297.19 L864.0,296.46 L865.0,296.02 L866.0,296.09 L867.0,296.52 L868.0,296.72 L869.0,296.28 L870.0,295.63 L871.0,295.24 L872.0,295.06 L873.0,295.12 L874.0,295.50 L875.0,295.90 L876.0,295.94 L877.0,295.57 L878.0,295.18 L879.0,295.35 L880.0,295.94 L881.0,296.21 L882.0,296.13 L883.0,296.23 L884.0,296.48" stroke="#ff0000"/>
<path d="M96.0,295.64 L97.0,295.68 L98.0,295.74 L99.0,295.80 L100.0,295.87 L101.0,295.93 L102.0,295.99 L103.0,296.05 L104.0,296.11 L105.0,296.17 L106.0,296.23 L107.0,296.28 L108.0,296.34 L109.0,296.39 L110.0,296.44 L111.0,296.49 L112.0,296.54 L113.0,296.59 L114.0,296.64 L115.0,296.69 L116.0,296.74 L117.0,296.78 L118.0,296.83 L119.0,296.87 L120.0,296.92 L121.0,296.96 L122.0,297.01 L123.0,297.05 L124.0,297.09 L125.0,297.14 L126.0,297.18 L127.0,297.22 L128.0,297.26 L129.0,297.31 L130.0,297.35 L131.0,297.39 L132.0,297.43 L133.0,297.47 L134.0,297.52 L135.0,297.56 L136.0,297.60 L137.0,297.64 L138.0,297.69 L139.0,297.73 L140.0,297.77 L141.0,297.82 L142.0,297.86 L143.0,297.91 L144.0,297.95 L145.0,298.00 L146.0,298.05 L147.0,298.09 L148.0,298.14 L149.0,298.19 L150.0,298.24 L151.0,298.29 L152.0,298.34 L153.0,298.40 L154.0,298.45 L155.0,298.51 L156.0,298.56 L157.0,298.62 L158.0,298.68 L159.0,298.74 L160.0,298.80 L161.0,298.86 L162.0,298.93 L163.0,298.99 L164.0,299.06 L165.0,299.13 L166.0,299.20 L167.0,299.27 L168.0,299.35 L169.0,299.42 L170.0,299.50 L171.0,299.58 L172.0,299.66 L173.0,299.74 L174.0,299.83 L175.0,299.91 L176.0,300.00 L177.0,300.09 L178.0,300.19 L179.0,300.28 L180.0,300.38 L181.0,300.48 L182.0,300.58 L183.0,300.68 L184.0,300.78 L185.0,300.88 L186.0,300.99 L187.0,301.09 L188.0,301.20 L189.0,301.31 L190.0,301.41 L191.0,301.52 L192.0,301.63 L193.0,301.74 L194.0,301.85 L195.0,301.95 L196.0,302.06 L197.0,302.17 L198.0,302.28 L199.0,302.38 L200.0,302.49 L201.0,302.60 L202.0,302.70 L203.0,302.80 L204.0,302.91 L205.0,303.01 L206.0,303.11 L207.0,303.20 L208.0,303.30 L209.0,303.40 L210.0,303.49 L211.0,303.58 L212.0,303.67 L213.0,303.75 L214.0,303.84 L215.0,303.92 L216.0,304.00 L217.0,304.07 L218.0,304.15 L219.0,304.22 L220.0,304.29 L221.0,304.35 L222.0,304.42 L223.0,304.48 L224.0,304.54 L225.0,304.60 L226.0,304.66 L227.0,304.72 L228.0,304.78 L229.0,304.83 L230.0,304.89 L231.0,304.94 L232.0,304.99 L233.0,305.05 L234.0,305.10 L235.0,305.16 L236.0,305.21 L237.0,305.27 L238.0,305.32 L239.0,305.38 L240.0,305.43 L241.0,305.49 L242.0,305.55 L243.0,305.61 L244.0,305.67 L245.0,305.74 L246.0,305.80 L247.0,305.87 L248.0,305.94 L249.0,306.02 L250.0,306.09 L251.0,306.17 L252.0,306.25 L253.0,306.33 L254.0,306.42 L255.0,306.51 L256.0,306.60 L257.0,306.70 L258.0,306.80 L259.0,306.90 L260.0,307.00 L261.0,307.09 L262.0,307.19 L263.0,307.28 L264.0,307.37 L265.0,307.45 L266.0,307.52 L267.0,307.59 L268.0,307.64 L269.0,307.68 L270.0,307.72 L271.0,307.73 L272.0,307.74 L273.0,307.72 L274.0,307.69 L275.0,307.65 L276.0,307.58 L277.0,307.49 L278.0,307.39 L279.0,307.28 L280.0,307.16 L281.0,307.03 L282.0,306.89 L283.0,306.76 L284.0,306.64 L285.0,306.52 L286.0,306.42 L287.0,306.32 L288.0,306.24 L289.0,306.17 L290.0,306.10 L291.0,306.04 L292.0,305.99 L293.0,305.93 L294.0,305.87 L295.0,305.80 L296.0,305.72 L297.0,305.64 L298.0,305.53 L299.0,305.41 L300.0,305.27 L301.0,305.11 L302.0,304.93 L303.0,304.71 L304.0,304.47 L305.0,304.20 L306.0,303.89 L307.0,303.55 L308.0,303.18 L309.0,302.76 L310.0,302.31 L311.0,301.82 L312.0,301.29 L313.0,300.73 L314.0,300.15 L315.0,299.53 L316.0,298.90 L317.0,298.26 L318.0,297.60 L319.0,296.93 L320.0,296.25 L321.0,295.55 L322.0,294.81 L323.0,294.02 L324.0,293.14 L325.0,292.17 L326.0,291.10 L327.0,289.94 L328.0,288.70 L329.0,287.40 L330.0,286.07 L331.0,284.72 L332.0,283.35 L333.0,281.97 L334.0,280.57 L335.0,279.17 L336.0,277.76 L337.0,276.35 L338.0,274.94 L339.0,273.55 L340.0,272.18 L341.0,270.83 L342.0,269.52 L343.0,268.23 L344.0,266.98 L345.0,265.76 L346.0,264.59 L347.0,263.46 L348.0,262.38 L349.0,261.36 L350.0,260.39 L351.0,259.48 L352.0,258.65 L353.0,257.89 L354.0,257.21 L355.0,256.61 L356.0,256.11 L357.0,255.68 L358.0,255.33 L359.0,255.06 L360.0,254.85 L361.0,254.70 L362.0,254.58 L363.0,254.50 L364.0,254.42 L365.0,254.35 L366.0,254.27 L367.0,254.18 L368.0,254.06 L369.0,253.91 L370.0,253.73 L371.0,253.50 L372.0,253.21 L373.0,252.87 L374.0,252.46 L375.0,251.98 L376.0,251.46 L377.0,250.92 L378.0,250.39 L379.0,249.92 L380.0,249.51 L381.0,249.19 L382.0,248.93 L383.0,248.71 L384.0,248.49 L385.0,248.22 L386.0,247.88 L387.0,247.46 L388.0,246.98 L389.0,246.46 L390.0,245.95 L391.0,245.51 L392.0,245.16 L393.0,244.93 L394.0,244.84 L395.0,244.87 L396.0,245.02 L397.0,245.28 L398.0,245.62 L399.0,246.03 L400.0,246.49 L401.0,246.99 L402.0,247.52 L403.0,248.05 L404.0,248.58 L405.0,249.08 L406.0,249.54 L407.0,249.96 L408.0,250.31 L409.0,250.60 L410.0,250.82 L411.0,250.97 L412.0,251.03 L413.0,251.01 L414.0,250.90 L415.0,250.71 L416.0,250.45 L417.0,250.12 L418.0,249.74 L419.0,249.33 L420.0,248.89 L421.0,248.45 L422.0,248.02 L423.0,247.61 L424.0,247.22 L425.0,246.85 L426.0,246.52 L427.0,246.21 L428.0,245.94 L429.0,245.70 L430.0,245.49 L431.0,245.32 L432.0,245.19 L433.0,245.09 L434.0,245.04 L435.0,245.02 L436.0,245.05 L437.0,245.12 L438.0,245.23 L439.0,245.40 L440.0,245.61 L441.0,245.88 L442.0,246.20 L443.0,246.57 L444.0,247.01 L445.0,247.51 L446.0,248.07 L447.0,248.68 L448.0,249.34 L449.0,250.04 L450.0,250.76 L451.0,251.49 L452.0,252.20 L453.0,252.90 L454.0,253.55 L455.0,254.15 L456.0,254.69 L457.0,255.14 L458.0,255.49 L459.0,255.73 L460.0,255.85 L461.0,255.85 L462.0,255.74 L463.0,255.52 L464.0,255.21 L465.0,254.84 L466.0,254.42 L467.0,253.97 L468.0,253.50 L469.0,253.01 L470.0,252.49 L471.0,251.93 L472.0,251.33 L473.0,250.67 L474.0,249.93 L475.0,249.12 L476.0,248.23 L477.0,247.28 L478.0,246.28 L479.0,245.25 L480.0,244.22 L481.0,243.22 L482.0,242.25 L483.0,241.35 L484.0,240.50 L485.0,239.72 L486.0,239.00 L487.0,238.33 L488.0,237.70 L489.0,237.12 L490.0,236.58 L491.0,236.06 L492.0,235.58 L493.0,235.14 L494.0,234.73 L495.0,234.37 L496.0,234.05 L497.0,233.78 L498.0,233.55 L499.0,233.36 L500.0,233.21 L501.0,233.08 L502.0,232.96 L503.0,232.86 L504.0,232.75 L505.0,232.65 L506.0,232.54 L507.0,232.43 L508.0,232.33 L509.0,232.26 L510.0,232.22 L511.0,232.22 L512.0,232.27 L513.0,232.38 L514.0,232.55 L515.0,232.78 L516.0,233.08 L517.0,233.44 L518.0,233.87 L519.0,234.36 L520.0,234.91 L521.0,235.52 L522.0,236.20 L523.0,236.94 L524.0,237.75 L525.0,238.63 L526.0,239.57 L527.0,240.58 L528.0,241.65 L529.0,242.77 L530.0,243.94 L531.0,245.15 L532.0,246.39 L533.0,247.65 L534.0,248.92 L535.0,250.18 L536.0,251.44 L537.0,252.68 L538.0,253.91 L539.0,255.10 L540.0,256.26 L541.0,257.39 L542.0,258.47 L543.0,259.50 L544.0,260.49 L545.0,261.42 L546.0,262.31 L547.0,263.16 L548.0,263.95 L549.0,264.70 L550.0,265.40 L551.0,266.05 L552.0,266.63 L553.0,267.16 L554.0,267.61 L555.0,267.98 L556.0,268.27 L557.0,268.48 L558.0,268.58 L559.0,268.58 L560.0,268.48 L561.0,268.26 L562.0,267.95 L563.0,267.54 L564.0,267.04 L565.0,266.46 L566.0,265.81 L567.0,265.10 L568.0,264.34 L569.0,263.54 L570.0,262.70 L571.0,261.85 L572.0,260.98 L573.0,260.10 L574.0,259.23 L575.0,258.37 L576.0,257.52 L577.0,256.68 L578.0,255.87 L579.0,255.07 L580.0,254.31 L581.0,253.57 L582.0,252.87 L583.0,252.20 L584.0,251.58 L585.0,250.99 L586.0,250.46 L587.0,249.97 L588.0,249.55 L589.0,249.19 L590.0,248.89 L591.0,248.67 L592.0,248.53 L593.0,248.48 L594.0,248.52 L595.0,248.64 L596.0,248.85 L597.0,249.12 L598.0,249.47 L599.0,249.86 L600.0,250.30 L601.0,250.77 L602.0,251.26 L603.0,251.75 L604.0,252.25 L605.0,252.74 L606.0,253.20 L607.0,253.64 L608.0,254.04 L609.0,254.41 L610.0,254.73 L611.0,255.01 L612.0,255.24 L613.0,255.42 L614.0,255.54 L615.0,255.61 L616.0,255.61 L617.0,255.54 L618.0,255.41 L619.0,255.21 L620.0,254.95 L621.0,254.62 L622.0,254.22 L623.0,253.77 L624.0,253.25 L625.0,252.68 L626.0,252.05 L627.0,251.38 L628.0,250.65 L629.0,249.89 L630.0,249.09 L631.0,248.26 L632.0,247.42 L633.0,246.58 L634.0,245.74 L635.0,244.92 L636.0,244.13 L637.0,243.37 L638.0,242.66 L639.0,242.00 L640.0,241.40 L641.0,240.85 L642.0,240.37 L643.0,239.95 L644.0,239.59 L645.0,239.29 L646.0,239.06 L647.0,238.90 L648.0,238.79 L649.0,238.76 L650.0,238.78 L651.0,238.86 L652.0,238.99 L653.0,239.16 L654.0,239.36 L655.0,239.59 L656.0,239.84 L657.0,240.11 L658.0,240.38 L659.0,240.64 L660.0,240.90 L661.0,241.14 L662.0,241.36 L663.0,241.54 L664.0,241.69 L665.0,241.79 L666.0,241.83 L667.0,241.82 L668.0,241.75 L669.0,241.63 L670.0,241.45 L671.0,241.23 L672.0,240.97 L673.0,240.67 L674.0,240.34 L675.0,239.97 L676.0,239.58 L677.0,239.18 L678.0,238.78 L679.0,238.40 L680.0,238.05 L681.0,237.75 L682.0,237.50 L683.0,237.30 L684.0,237.15 L685.0,237.06 L686.0,237.03 L687.0,237.07 L688.0,237.17 L689.0,237.34 L690.0,237.60 L691.0,237.93 L692.0,238.35 L693.0,238.85 L694.0,239.43 L695.0,240.08 L696.0,240.82 L697.0,241.63 L698.0,242.53 L699.0,243.52 L700.0,244.61 L701.0,245.78 L702.0,247.02 L703.0,248.32 L704.0,249.65 L705.0,250.99 L706.0,252.32 L707.0,253.63 L708.0,254.93 L709.0,256.22 L710.0,257.48 L711.0,258.73 L712.0,259.95 L713.0,261.15 L714.0,262.32 L715.0,263.45 L716.0,264.54 L717.0,265.59 L718.0,266.59 L719.0,267.54 L720.0,268.45 L721.0,269.32 L722.0,270.15 L723.0,270.96 L724.0,271.73 L725.0,272.48 L726.0,273.22 L727.0,273.93 L728.0,274.63 L729.0,275.31 L730.0,275.98 L731.0,276.62 L732.0,277.24 L733.0,277.84 L734.0,278.42 L735.0,278.98 L736.0,279.52 L737.0,280.04 L738.0,280.54 L739.0,281.02 L740.0,281.48 L741.0,281.91 L742.0,282.33 L743.0,282.72 L744.0,283.10 L745.0,283.46 L746.0,283.80 L747.0,284.12 L748.0,284.42 L749.0,284.71 L750.0,284.98 L751.0,285.24 L752.0,285.49 L753.0,285.72 L754.0,285.94 L755.0,286.14 L756.0,286.33 L757.0,286.51 L758.0,286.68 L759.0,286.84 L760.0,286.99 L761.0,287.13 L762.0,287.26 L763.0,287.39 L764.0,287.53 L765.0,287.66 L766.0,287.81 L767.0,287.96 L768.0,288.13 L769.0,288.32 L770.0,288.52 L771.0,288.75 L772.0,288.99 L773.0,289.24 L774.0,289.49 L775.0,289.74 L776.0,289.98 L777.0,290.20 L778.0,290.41 L779.0,290.60 L780.0,290.77 L781.0,290.92 L782.0,291.05 L783.0,291.17 L784.0,291.28 L785.0,291.37 L786.0,291.45 L787.0,291.51 L788.0,291.56 L789.0,291.61 L790.0,291.64 L791.0,291.66 L792.0,291.67 L793.0,291.68 L794.0,291.68 L795.0,291.67 L796.0,291.66 L797.0,291.64 L798.0,291.62 L799.0,291.60 L800.0,291.57 L801.0,291.54 L802.0,291.51 L803.0,291.48 L804.0,291.45 L805.0,291.43 L806.0,291.40 L807.0,291.38 L808.0,291.36 L809.0,291.35 L810.0,291.33 L811.0,291.32 L812.0,291.32 L813.0,291.31 L814.0,291.31 L815.0,291.31 L816.0,291.31 L817.0,291.31 L818.0,291.32 L819.0,291.33 L820.0,291.34 L821.0,291.35 L822.0,291.37 L823.0,291.38 L824.0,291.40 L825.0,291.42 L826.0,291.44 L827.0,291.46 L828.0,291.49 L829.0,291.51 L830.0,291.54 L831.0,291.56 L832.0,291.59 L833.0,291.62 L834.0,291.64 L835.0,291.67 L836.0,291.70 L837.0,291.73 L838.0,291.76 L839.0,291.79 L840.0,291.82 L841.0,291.85 L842.0,291.88 L843.0,291.91 L844.0,291.94 L845.0,291.97 L846.0,292.00 L847.0,292.03 L848.0,292.05 L849.0,292.08 L850.0,292.11 L851.0,292.13 L852.0,292.16 L853.0,292.18 L854.0,292.20 L855.0,292.22 L856.0,292.24 L857.0,292.26 L858.0,292.27 L859.0,292.28 L860.0,292.30 L861.0,292.31 L862.0,292.31 L863.0,292.32 L864.0,292.32 L865.0,292.33 L866.0,292.32 L867.0,292.32 L868.0,292.32 L869.0,292.31 L870.0,292.30 L871.0,292.28 L872.0,292.26 L873.0,292.24 L874.0,292.22 L875.0,292.19 L876.0,292.16 L877.0,292.13 L878.0,292.09 L879.0,292.05 L880.0,292.01 L881.0,291.96 L882.0,291.91 L883.0,291.87 L884.0,291.83" stroke="#0000ff"/>
<path d="M96.0,362.83 L97.0,363.31 L98.0,363.68 L99.0,363.50 L100.0,363.06 L101.0,362.90 L102.0,362.93 L103.0,362.90 L104.0,362.95 L105.0,363.31 L106.0,363.80 L107.0,364.03 L108.0,363.82 L109.0,363.41 L110.0,363.16 L111.0,363.04 L112.0,362.86 L113.0,362.64 L114.0,362.33 L115.0,361.96 L116.0,361.78 L117.0,361.88 L118.0,362.11 L119.0,362.20 L120.0,361.94 L121.0,361.47 L122.0,361.18 L123.0,361.10 L124.0,360.93 L125.0,360.70 L126.0,360.68 L127.0,360.82 L128.0,361.04 L129.0,361.41 L130.0,361.78 L131.0,361.88 L132.0,361.60 L133.0,361.16 L134.0,361.05 L135.0,361.42 L136.0,361.86 L137.0,361.95 L138.0,361.71 L139.0,361.52 L140.0,361.62 L141.0,361.97 L142.0,362.55 L143.0,363.24 L144.0,363.67 L145.0,363.69 L146.0,363.61 L147.0,363.63 L148.0,363.70 L149.0,363.95 L150.0,364.32 L151.0,364.58 L152.0,364.76 L153.0,364.99 L154.0,365.17 L155.0,365.36 L156.0,365.60 L157.0,365.72 L158.0,365.59 L159.0,365.25 L160.0,364.87 L161.0,364.56 L162.0,364.35 L163.0,364.14 L164.0,363.87 L165.0,363.80 L166.0,363.86 L167.0,363.66 L168.0,363.44 L169.0,363.42 L170.0,363.26 L171.0,362.82 L172.0,362.17 L173.0,361.45 L174.0,360.85 L175.0,360.68 L176.0,361.10 L177.0,361.91 L178.0,362.64 L179.0,362.85 L180.0,362.58 L181.0,362.25 L182.0,361.94 L183.0,361.58 L184.0,361.28 L185.0,361.24 L186.0,361.51 L187.0,361.97 L188.0,362.52 L189.0,363.14 L190.0,363.69 L191.0,364.04 L192.0,364.31 L193.0,364.53 L194.0,364.57 L195.0,364.48 L196.0,364.54 L197.0,364.86 L198.0,365.27 L199.0,365.51 L200.0,365.51 L201.0,365.36 L202.0,365.17 L203.0,365.05 L204.0,365.17 L205.0,365.46 L206.0,365.65 L207.0,365.67 L208.0,365.62 L209.0,365.57 L210.0,365.59 L211.0,365.59 L212.0,365.35 L213.0,365.00 L214.0,364.82 L215.0,364.91 L216.0,365.18 L217.0,365.41 L218.0,365.75 L219.0,366.13 L220.0,366.07 L221.0,365.63 L222.0,365.33 L223.0,365.25 L224.0,365.03 L225.0,364.63 L226.0,364.39 L227.0,364.34 L228.0,364.23 L229.0,363.93 L230.0,363.36 L231.0,362.58 L232.0,361.94 L233.0,361.88 L234.0,362.41 L235.0,362.99 L236.0,363.32 L237.0,363.57 L238.0,363.64 L239.0,363.45 L240.0,363.21 L241.0,363.04 L242.0,363.00 L243.0,363.21 L244.0,363.64 L245.0,364.03 L246.0,364.19 L247.0,364.20 L248.0,364.22 L249.0,364.30 L250.0,364.53 L251.0,364.84 L252.0,365.09 L253.0,365.26 L254.0,365.37 L255.0,365.45 L256.0,365.70 L257.0,366.24 L258.0,366.88 L259.0,367.37 L260.0,367.45 L261.0,366.99 L262.0,366.66 L263.0,367.13 L264.0,367.84 L265.0,368.01 L266.0,367.91 L267.0,368.12 L268.0,368.61 L269.0,368.92 L270.0,368.94 L271.0,368.89 L272.0,368.73 L273.0,368.31 L274.0,367.87 L275.0,367.71 L276.0,367.66 L277.0,367.53 L278.0,367.20 L279.0,366.69 L280.0,366.51 L281.0,366.89 L282.0,367.13 L283.0,366.88 L284.0,366.49 L285.0,366.23 L286.0,366.13 L287.0,366.19 L288.0,366.22 L289.0,366.14 L290.0,366.20 L291.0,366.66 L292.0,367.32 L293.0,367.65 L294.0,367.47 L295.0,367.13 L296.0,367.07 L297.0,367.28 L298.0,367.25 L299.0,366.86 L300.0,366.38 L301.0,366.02 L302.0,365.90 L303.0,365.77 L304.0,365.48 L305.0,365.42 L306.0,365.72 L307.0,365.99 L308.0,366.00 L309.0,365.91 L310.0,365.86 L311.0,365.82 L312.0,365.68 L313.0,365.55 L314.0,365.66 L315.0,366.05 L316.0,366.51 L317.0,366.56 L318.0,366.00 L319.0,365.20 L320.0,364.60 L321.0,364.36 L322.0,364.27 L323.0,364.03 L324.0,363.59 L325.0,362.94 L326.0,362.04 L327.0,361.10 L328.0,360.55 L329.0,360.28 L330.0,359.80 L331.0,359.05 L332.0,358.18 L333.0,357.16 L334.0,356.15 L335.0,355.52 L336.0,355.27 L337.0,355.03 L338.0,354.54 L339.0,353.74 L340.0,352.76 L341.0,351.81 L342.0,350.78 L343.0,349.57 L344.0,348.38 L345.0,347.44 L346.0,346.69 L347.0,345.86 L348.0,344.74 L349.0,343.34 L350.0,341.86 L351.0,340.50 L352.0,339.38 L353.0,338.44 L354.0,337.32 L355.0,335.81 L356.0,334.15 L357.0,332.61 L358.0,331.09 L359.0,329.57 L360.0,328.33 L361.0,327.61 L362.0,327.06 L363.0,326.08 L364.0,324.63 L365.0,323.14 L366.0,322.05 L367.0,321.44 L368.0,320.97 L369.0,320.42 L370.0,319.89 L371.0,319.59 L372.0,319.26 L373.0,318.75 L374.0,318.28 L375.0,318.04 L376.0,318.10 L377.0,318.30 L378.0,318.28 L379.0,318.00 L380.0,317.75 L381.0,317.49 L382.0,317.08 L383.0,316.71 L384.0,316.53 L385.0,316.66 L386.0,317.09 L387.0,317.58 L388.0,317.77 L389.0,317.39 L390.0,316.53 L391.0,315.51 L392.0,314.61 L393.0,313.90 L394.0,313.49 L395.0,313.25 L396.0,312.81 L397.0,312.37 L398.0,312.34 L399.0,312.54 L400.0,312.49 L401.0,312.15 L402.0,311.81 L403.0,311.57 L404.0,311.55 L405.0,311.76 L406.0,312.06 L407.0,312.45 L408.0,312.95 L409.0,313.45 L410.0,313.94 L411.0,314.47 L412.0,315.14 L413.0,315.95 L414.0,316.71 L415.0,317.37 L416.0,318.12 L417.0,318.76 L418.0,319.08 L419.0,319.30 L420.0,319.51 L421.0,319.62 L422.0,319.66 L423.0,319.70 L424.0,319.68 L425.0,319.52 L426.0,319.35 L427.0,319.17 L428.0,318.69 L429.0,317.95 L430.0,317.29 L431.0,316.89 L432.0,316.67 L433.0,316.37 L434.0,315.77 L435.0,315.03 L436.0,314.58 L437.0,314.37 L438.0,314.08 L439.0,313.73 L440.0,313.33 L441.0,312.78 L442.0,312.27 L443.0,312.05 L444.0,311.95 L445.0,311.58 L446.0,311.08 L447.0,310.83 L448.0,310.99 L449.0,311.41 L450.0,311.67 L451.0,311.63 L452.0,311.57 L453.0,311.88 L454.0,312.56 L455.0,313.22 L456.0,313.71 L457.0,314.03 L458.0,314.17 L459.0,314.26 L460.0,314.59 L461.0,315.26 L462.0,315.89 L463.0,315.96 L464.0,315.55 L465.0,314.88 L466.0,314.25 L467.0,313.95 L468.0,313.69 L469.0,313.08 L470.0,312.14 L471.0,311.10 L472.0,310.05 L473.0,308.63 L474.0,306.78 L475.0,305.09 L476.0,303.73 L477.0,302.35 L478.0,300.85 L479.0,299.35 L480.0,297.77 L481.0,296.15 L482.0,294.52 L483.0,292.78 L484.0,291.13 L485.0,290.00 L486.0,289.25 L487.0,288.22 L488.0,286.54 L489.0,284.49 L490.0,282.69 L491.0,281.29 L492.0,280.02 L493.0,278.71 L494.0,277.27 L495.0,275.83 L496.0,274.96 L497.0,275.12 L498.0,275.86 L499.0,276.42 L500.0,276.60 L501.0,276.70 L502.0,277.16 L503.0,278.19 L504.0,279.70 L505.0,281.52 L506.0,283.46 L507.0,285.31 L508.0,286.99 L509.0,288.76 L510.0,290.80 L511.0,293.03 L512.0,295.24 L513.0,297.47 L514.0,299.79 L515.0,301.91 L516.0,303.56 L517.0,305.04 L518.0,306.76 L519.0,308.73 L520.0,310.74 L521.0,312.83 L522.0,315.00 L523.0,317.06 L524.0,319.02 L525.0,320.92 L526.0,322.56 L527.0,323.98 L528.0,325.45 L529.0,326.60 L530.0,327.14 L531.0,327.43 L532.0,327.85 L533.0,328.46 L534.0,329.05 L535.0,329.40 L536.0,329.58 L537.0,329.80 L538.0,330.13 L539.0,330.47 L540.0,330.78 L541.0,331.04 L542.0,331.30 L543.0,331.55 L544.0,331.60 L545.0,331.53 L546.0,331.56 L547.0,331.53 L548.0,331.34 L549.0,331.20 L550.0,331.23 L551.0,331.29 L552.0,331.23 L553.0,331.02 L554.0,330.74 L555.0,330.38 L556.0,329.94 L557.0,329.31 L558.0,328.65 L559.0,328.18 L560.0,327.51 L561.0,326.38 L562.0,325.12 L563.0,323.95 L564.0,322.83 L565.0,321.78 L566.0,320.92 L567.0,320.24 L568.0,319.53 L569.0,318.80 L570.0,318.09 L571.0,317.25 L572.0,316.30 L573.0,315.59 L574.0,315.08 L575.0,314.21 L576.0,313.19 L577.0,312.83 L578.0,313.33 L579.0,314.10 L580.0,314.57 L581.0,314.76 L582.0,314.99 L583.0,315.28 L584.0,315.67 L585.0,316.25 L586.0,316.90 L587.0,317.43 L588.0,317.76 L589.0,318.08 L590.0,318.67 L591.0,319.49 L592.0,320.29 L593.0,320.91 L594.0,321.29 L595.0,321.34 L596.0,321.39 L597.0,321.74 L598.0,322.31 L599.0,322.96 L600.0,323.55 L601.0,323.91 L602.0,324.02 L603.0,323.95 L604.0,323.84 L605.0,323.71 L606.0,323.47 L607.0,323.11 L608.0,322.82 L609.0,322.72 L610.0,322.82 L611.0,323.13 L612.0,323.37 L613.0,323.06 L614.0,322.09 L615.0,320.88 L616.0,319.70 L617.0,318.43 L618.0,317.05 L619.0,315.68 L620.0,314.37 L621.0,313.09 L622.0,311.70 L623.0,310.08 L624.0,308.44 L625.0,306.87 L626.0,305.24 L627.0,303.80 L628.0,302.86 L629.0,302.28 L630.0,301.63 L631.0,300.78 L632.0,299.93 L633.0,299.36 L634.0,298.96 L635.0,298.56 L636.0,298.31 L637.0,298.38 L638.0,298.81 L639.0,299.37 L640.0,299.73 L641.0,300.09 L642.0,300.78 L643.0,301.65 L644.0,302.48 L645.0,303.16 L646.0,303.71 L647.0,304.33 L648.0,304.94 L649.0,305.38 L650.0,305.72 L651.0,306.05 L652.0,306.25 L653.0,306.40 L654.0,306.38 L655.0,305.85 L656.0,305.15 L657.0,305.02 L658.0,305.14 L659.0,304.61 L660.0,303.33 L661.0,302.12 L662.0,301.57 L663.0,301.32 L664.0,300.79 L665.0,300.08 L666.0,299.60 L667.0,299.39 L668.0,299.25 L669.0,299.24 L670.0,299.36 L671.0,299.37 L672.0,299.07 L673.0,298.71 L674.0,298.76 L675.0,299.26 L676.0,299.60 L677.0,299.50 L678.0,299.56 L679.0,300.45 L680.0,301.98 L681.0,303.50 L682.0,304.66 L683.0,305.68 L684.0,306.68 L685.0,307.48 L686.0,308.10 L687.0,308.96 L688.0,310.29 L689.0,311.96 L690.0,313.66 L691.0,315.26 L692.0,316.83 L693.0,318.60 L694.0,320.61 L695.0,322.67 L696.0,324.60 L697.0,326.25 L698.0,327.39 L699.0,328.25 L700.0,329.27 L701.0,330.31 L702.0,331.34 L703.0,332.58 L704.0,333.84 L705.0,334.91 L706.0,335.91 L707.0,337.02 L708.0,338.08 L709.0,338.90 L710.0,339.54 L711.0,340.13 L712.0,340.64 L713.0,341.07 L714.0,341.62 L715.0,342.37 L716.0,342.94 L717.0,343.15 L718.0,343.18 L719.0,343.29 L720.0,343.51 L721.0,343.72 L722.0,344.11 L723.0,344.68 L724.0,345.02 L725.0,344.93 L726.0,344.70 L727.0,344.58 L728.0,344.67 L729.0,345.18 L730.0,345.94 L731.0,346.48 L732.0,346.54 L733.0,346.43 L734.0,346.51 L735.0,346.91 L736.0,347.53 L737.0,348.07 L738.0,348.41 L739.0,348.72 L740.0,349.17 L741.0,349.71 L742.0,350.11 L743.0,350.38 L744.0,350.85 L745.0,351.60 L746.0,352.29 L747.0,352.59 L748.0,352.50 L749.0,352.49 L750.0,353.09 L751.0,354.26 L752.0,355.39 L753.0,356.12 L754.0,356.49 L755.0,356.76 L756.0,357.21 L757.0,357.77 L758.0,358.25 L759.0,358.78 L760.0,359.36 L761.0,359.84 L762.0,359.97 L763.0,359.64 L764.0,359.14 L765.0,358.90 L766.0,359.09 L767.0,359.52 L768.0,359.89 L769.0,360.09 L770.0,360.00 L771.0,359.68 L772.0,359.55 L773.0,359.77 L774.0,359.93 L775.0,359.99 L776.0,360.38 L777.0,361.06 L778.0,361.48 L779.0,361.47 L780.0,361.21 L781.0,360.92 L782.0,360.81 L783.0,360.85 L784.0,360.89 L785.0,360.96 L786.0,361.19 L787.0,361.53 L788.0,361.85 L789.0,362.17 L790.0,362.34 L791.0,362.24 L792.0,362.19 L793.0,362.25 L794.0,362.20 L795.0,362.01 L796.0,361.72 L797.0,361.52 L798.0,361.75 L799.0,362.30 L800.0,362.95 L801.0,363.60 L802.0,364.18 L803.0,364.56 L804.0,364.58 L805.0,364.26 L806.0,363.80 L807.0,363.35 L808.0,363.04 L809.0,363.05 L810.0,363.08 L811.0,362.65 L812.0,362.04 L813.0,361.87 L814.0,362.05 L815.0,361.98 L816.0,361.33 L817.0,360.43 L818.0,359.89 L819.0,359.78 L820.0,359.84 L821.0,359.95 L822.0,360.05 L823.0,360.08 L824.0,360.09 L825.0,360.12 L826.0,360.02 L827.0,359.77 L828.0,359.71 L829.0,359.93 L830.0,360.09 L831.0,359.98 L832.0,359.70 L833.0,359.54 L834.0,359.61 L835.0,359.75 L836.0,360.05 L837.0,360.50 L838.0,360.87 L839.0,361.20 L840.0,361.43 L841.0,361.23 L842.0,360.78 L843.0,360.64 L844.0,360.63 L845.0,360.35 L846.0,360.27 L847.0,360.87 L848.0,361.68 L849.0,362.10 L850.0,362.12 L851.0,362.03 L852.0,362.04 L853.0,362.08 L854.0,362.17 L855.0,362.31 L856.0,362.42 L857.0,362.61 L858.0,362.94 L859.0,363.00 L860.0,362.54 L861.0,362.06 L862.0,362.07 L863.0,362.30 L864.0,362.44 L865.0,362.57 L866.0,362.80 L867.0,363.12 L868.0,363.33 L869.0,363.45 L870.0,363.58 L871.0,363.47 L872.0,363.13 L873.0,363.01 L874.0,363.33 L875.0,363.65 L876.0,363.56 L877.0,363.44 L878.0,363.65 L879.0,363.76 L880.0,363.28 L881.0,362.42 L882.0,361.74 L883.0,361.51 L884.0,361.53" stroke="#ff0000"/>
<path d="M96.0,363.56 L97.0,363.52 L98.0,363.47 L99.0,363.41 L100.0,363.35 L101.0,363.29 L102.0,363.24 L103.0,363.19 L104.0,363.14 L105.0,363.10 L106.0,363.06 L107.0,363.02 L108.0,362.98 L109.0,362.95 L110.0,362.92 L111.0,362.90 L112.0,362.87 L113.0,362.85 L114.0,362.83 L115.0,362.82 L116.0,362.80 L117.0,362.79 L118.0,362.78 L119.0,362.78 L120.0,362.77 L121.0,362.77 L122.0,362.77 L123.0,362.78 L124.0,362.78 L125.0,362.79 L126.0,362.80 L127.0,362.81 L128.0,362.83 L129.0,362.84 L130.0,362.86 L131.0,362.88 L132.0,362.90 L133.0,362.92 L134.0,362.95 L135.0,362.97 L136.0,363.00 L137.0,363.03 L138.0,363.06 L139.0,363.10 L140.0,363.13 L141.0,363.17 L142.0,363.20 L143.0,363.24 L144.0,363.28 L145.0,363.32 L146.0,363.37 L147.0,363.41 L148.0,363.45 L149.0,363.50 L150.0,363.55 L151.0,363.60 L152.0,363.64 L153.0,363.69 L154.0,363.75 L155.0,363.80 L156.0,363.85 L157.0,363.90 L158.0,363.96 L159.0,364.01 L160.0,364.07 L161.0,364.12 L162.0,364.18 L163.0,364.24 L164.0,364.29 L165.0,364.35 L166.0,364.41 L167.0,364.47 L168.0,364.53 L169.0,364.58 L170.0,364.64 L171.0,364.70 L172.0,364.76 L173.0,364.82 L174.0,364.88 L175.0,364.94 L176.0,365.00 L177.0,365.06 L178.0,365.12 L179.0,365.18 L180.0,365.24 L181.0,365.30 L182.0,365.36 L183.0,365.42 L184.0,365.49 L185.0,365.55 L186.0,365.62 L187.0,365.69 L188.0,365.76 L189.0,365.83 L190.0,365.90 L191.0,365.98 L192.0,366.06 L193.0,366.14 L194.0,366.23 L195.0,366.31 L196.0,366.40 L197.0,366.50 L198.0,366.59 L199.0,366.69 L200.0,366.79 L201.0,366.89 L202.0,366.99 L203.0,367.09 L204.0,367.19 L205.0,367.28 L206.0,367.38 L207.0,367.46 L208.0,367.55 L209.0,367.63 L210.0,367.70 L211.0,367.77 L212.0,367.83 L213.0,367.88 L214.0,367.93 L215.0,367.96 L216.0,367.99 L217.0,368.01 L218.0,368.01 L219.0,368.01 L220.0,368.01 L221.0,367.99 L222.0,367.98 L223.0,367.96 L224.0,367.94 L225.0,367.91 L226.0,367.89 L227.0,367.88 L228.0,367.86 L229.0,367.85 L230.0,367.85 L231.0,367.85 L232.0,367.86 L233.0,367.88 L234.0,367.91 L235.0,367.96 L236.0,368.02 L237.0,368.09 L238.0,368.17 L239.0,368.27 L240.0,368.38 L241.0,368.50 L242.0,368.63 L243.0,368.77 L244.0,368.92 L245.0,369.07 L246.0,369.24 L247.0,369.40 L248.0,369.58 L249.0,369.75 L250.0,369.93 L251.0,370.11 L252.0,370.29 L253.0,370.47 L254.0,370.65 L255.0,370.82 L256.0,371.00 L257.0,371.17 L258.0,371.33 L259.0,371.49 L260.0,371.65 L261.0,371.80 L262.0,371.95 L263.0,372.10 L264.0,372.24 L265.0,372.37 L266.0,372.51 L267.0,372.63 L268.0,372.76 L269.0,372.88 L270.0,372.99 L271.0,373.10 L272.0,373.21 L273.0,373.31 L274.0,373.41 L275.0,373.51 L276.0,373.60 L277.0,373.68 L278.0,373.76 L279.0,373.84 L280.0,373.91 L281.0,373.98 L282.0,374.04 L283.0,374.10 L284.0,374.15 L285.0,374.20 L286.0,374.25 L287.0,374.29 L288.0,374.32 L289.0,374.35 L290.0,374.37 L291.0,374.39 L292.0,374.40 L293.0,374.41 L294.0,374.41 L295.0,374.40 L296.0,374.39 L297.0,374.38 L298.0,374.36 L299.0,374.33 L300.0,374.30 L301.0,374.26 L302.0,374.22 L303.0,374.17 L304.0,374.11 L305.0,374.06 L306.0,373.99 L307.0,373.93 L308.0,373.85 L309.0,373.78 L310.0,373.69 L311.0,373.60 L312.0,373.50 L313.0,373.38 L314.0,373.26 L315.0,373.13 L316.0,372.99 L317.0,372.83 L318.0,372.66 L319.0,372.48 L320.0,372.28 L321.0,372.08 L322.0,371.85 L323.0,371.61 L324.0,371.35 L325.0,371.06 L326.0,370.75 L327.0,370.41 L328.0,370.05 L329.0,369.65 L330.0,369.21 L331.0,368.74 L332.0,368.23 L333.0,367.66 L334.0,367.05 L335.0,366.39 L336.0,365.67 L337.0,364.88 L338.0,364.03 L339.0,363.11 L340.0,362.11 L341.0,361.05 L342.0,359.91 L343.0,358.71 L344.0,357.45 L345.0,356.14 L346.0,354.79 L347.0,353.39 L348.0,351.97 L349.0,350.51 L350.0,349.03 L351.0,347.51 L352.0,345.96 L353.0,344.37 L354.0,342.72 L355.0,341.01 L356.0,339.24 L357.0,337.44 L358.0,335.63 L359.0,333.83 L360.0,332.06 L361.0,330.35 L362.0,328.72 L363.0,327.18 L364.0,325.74 L365.0,324.42 L366.0,323.22 L367.0,322.14 L368.0,321.21 L369.0,320.41 L370.0,319.76 L371.0,319.25 L372.0,318.87 L373.0,318.59 L374.0,318.41 L375.0,318.30 L376.0,318.24 L377.0,318.21 L378.0,318.18 L379.0,318.14 L380.0,318.06 L381.0,317.94 L382.0,317.75 L383.0,317.49 L384.0,317.18 L385.0,316.80 L386.0,316.37 L387.0,315.90 L388.0,315.40 L389.0,314.86 L390.0,314.31 L391.0,313.75 L392.0,313.18 L393.0,312.61 L394.0,312.06 L395.0,311.53 L396.0,311.03 L397.0,310.57 L398.0,310.15 L399.0,309.80 L400.0,309.50 L401.0,309.28 L402.0,309.15 L403.0,309.10 L404.0,309.15 L405.0,309.31 L406.0,309.56 L407.0,309.90 L408.0,310.32 L409.0,310.81 L410.0,311.35 L411.0,311.93 L412.0,312.53 L413.0,313.15 L414.0,313.77 L415.0,314.38 L416.0,314.97 L417.0,315.52 L418.0,316.04 L419.0,316.51 L420.0,316.92 L421.0,317.27 L422.0,317.55 L423.0,317.75 L424.0,317.87 L425.0,317.90 L426.0,317.83 L427.0,317.68 L428.0,317.45 L429.0,317.15 L430.0,316.78 L431.0,316.34 L432.0,315.86 L433.0,315.32 L434.0,314.75 L435.0,314.14 L436.0,313.51 L437.0,312.86 L438.0,312.21 L439.0,311.56 L440.0,310.94 L441.0,310.36 L442.0,309.83 L443.0,309.38 L444.0,309.02 L445.0,308.75 L446.0,308.61 L447.0,308.57 L448.0,308.66 L449.0,308.85 L450.0,309.14 L451.0,309.52 L452.0,309.98 L453.0,310.51 L454.0,311.09 L455.0,311.72 L456.0,312.39 L457.0,313.08 L458.0,313.78 L459.0,314.45 L460.0,315.09 L461.0,315.66 L462.0,316.13 L463.0,316.49 L464.0,316.69 L465.0,316.73 L466.0,316.58 L467.0,316.24 L468.0,315.71 L469.0,315.02 L470.0,314.17 L471.0,313.19 L472.0,312.09 L473.0,310.89 L474.0,309.60 L475.0,308.22 L476.0,306.77 L477.0,305.22 L478.0,303.56 L479.0,301.77 L480.0,299.83 L481.0,297.77 L482.0,295.61 L483.0,293.39 L484.0,291.14 L485.0,288.89 L486.0,286.68 L487.0,284.52 L488.0,282.45 L489.0,280.47 L490.0,278.61 L491.0,276.89 L492.0,275.33 L493.0,273.94 L494.0,272.74 L495.0,271.76 L496.0,271.04 L497.0,270.60 L498.0,270.47 L499.0,270.63 L500.0,271.03 L501.0,271.60 L502.0,272.31 L503.0,273.15 L504.0,274.18 L505.0,275.43 L506.0,276.92 L507.0,278.64 L508.0,280.56 L509.0,282.65 L510.0,284.84 L511.0,287.10 L512.0,289.39 L513.0,291.67 L514.0,293.94 L515.0,296.19 L516.0,298.40 L517.0,300.60 L518.0,302.77 L519.0,304.92 L520.0,307.05 L521.0,309.15 L522.0,311.21 L523.0,313.23 L524.0,315.20 L525.0,317.10 L526.0,318.92 L527.0,320.67 L528.0,322.33 L529.0,323.91 L530.0,325.40 L531.0,326.80 L532.0,328.14 L533.0,329.39 L534.0,330.58 L535.0,331.70 L536.0,332.75 L537.0,333.73 L538.0,334.63 L539.0,335.45 L540.0,336.19 L541.0,336.84 L542.0,337.39 L543.0,337.84 L544.0,338.20 L545.0,338.44 L546.0,338.59 L547.0,338.63 L548.0,338.58 L549.0,338.44 L550.0,338.21 L551.0,337.92 L552.0,337.54 L553.0,337.10 L554.0,336.59 L555.0,336.01 L556.0,335.36 L557.0,334.66 L558.0,333.88 L559.0,333.05 L560.0,332.16 L561.0,331.21 L562.0,330.20 L563.0,329.15 L564.0,328.04 L565.0,326.90 L566.0,325.74 L567.0,324.56 L568.0,323.39 L569.0,322.23 L570.0,321.10 L571.0,320.02 L572.0,318.99 L573.0,318.04 L574.0,317.17 L575.0,316.40 L576.0,315.74 L577.0,315.21 L578.0,314.82 L579.0,314.57 L580.0,314.48 L581.0,314.54 L582.0,314.75 L583.0,315.09 L584.0,315.54 L585.0,316.09 L586.0,316.70 L587.0,317.37 L588.0,318.08 L589.0,318.80 L590.0,319.52 L591.0,320.23 L592.0,320.93 L593.0,321.61 L594.0,322.26 L595.0,322.88 L596.0,323.46 L597.0,324.00 L598.0,324.50 L599.0,324.94 L600.0,325.33 L601.0,325.66 L602.0,325.92 L603.0,326.12 L604.0,326.25 L605.0,326.30 L606.0,326.28 L607.0,326.19 L608.0,326.03 L609.0,325.78 L610.0,325.47 L611.0,325.07 L612.0,324.60 L613.0,324.05 L614.0,323.42 L615.0,322.71 L616.0,321.92 L617.0,321.04 L618.0,320.09 L619.0,319.06 L620.0,317.94 L621.0,316.75 L622.0,315.48 L623.0,314.16 L624.0,312.81 L625.0,311.46 L626.0,310.14 L627.0,308.89 L628.0,307.74 L629.0,306.72 L630.0,305.86 L631.0,305.17 L632.0,304.68 L633.0,304.37 L634.0,304.23 L635.0,304.24 L636.0,304.39 L637.0,304.66 L638.0,305.03 L639.0,305.47 L640.0,305.98 L641.0,306.53 L642.0,307.10 L643.0,307.69 L644.0,308.26 L645.0,308.82 L646.0,309.34 L647.0,309.80 L648.0,310.20 L649.0,310.52 L650.0,310.74 L651.0,310.85 L652.0,310.85 L653.0,310.73 L654.0,310.50 L655.0,310.17 L656.0,309.76 L657.0,309.27 L658.0,308.71 L659.0,308.11 L660.0,307.47 L661.0,306.80 L662.0,306.12 L663.0,305.42 L664.0,304.72 L665.0,304.03 L666.0,303.37 L667.0,302.77 L668.0,302.27 L669.0,301.92 L670.0,301.73 L671.0,301.75 L672.0,301.96 L673.0,302.35 L674.0,302.93 L675.0,303.65 L676.0,304.52 L677.0,305.50 L678.0,306.60 L679.0,307.80 L680.0,309.08 L681.0,310.42 L682.0,311.81 L683.0,313.20 L684.0,314.59 L685.0,315.93 L686.0,317.22 L687.0,318.46 L688.0,319.66 L689.0,320.84 L690.0,322.01 L691.0,323.19 L692.0,324.37 L693.0,325.57 L694.0,326.79 L695.0,328.00 L696.0,329.23 L697.0,330.44 L698.0,331.64 L699.0,332.81 L700.0,333.95 L701.0,335.04 L702.0,336.09 L703.0,337.09 L704.0,338.04 L705.0,338.95 L706.0,339.82 L707.0,340.65 L708.0,341.46 L709.0,342.23 L710.0,342.98 L711.0,343.71 L712.0,344.43 L713.0,345.13 L714.0,345.81 L715.0,346.48 L716.0,347.13 L717.0,347.76 L718.0,348.36 L719.0,348.92 L720.0,349.45 L721.0,349.94 L722.0,350.39 L723.0,350.79 L724.0,351.17 L725.0,351.52 L726.0,351.84 L727.0,352.15 L728.0,352.44 L729.0,352.72 L730.0,353.00 L731.0,353.27 L732.0,353.54 L733.0,353.81 L734.0,354.07 L735.0,354.33 L736.0,354.58 L737.0,354.82 L738.0,355.06 L739.0,355.28 L740.0,355.48 L741.0,355.68 L742.0,355.86 L743.0,356.03 L744.0,356.19 L745.0,356.34 L746.0,356.49 L747.0,356.62 L748.0,356.75 L749.0,356.88 L750.0,357.00 L751.0,357.11 L752.0,357.23 L753.0,357.34 L754.0,357.45 L755.0,357.55 L756.0,357.65 L757.0,357.75 L758.0,357.84 L759.0,357.92 L760.0,357.99 L761.0,358.06 L762.0,358.12 L763.0,358.18 L764.0,358.23 L765.0,358.27 L766.0,358.31 L767.0,358.35 L768.0,358.38 L769.0,358.41 L770.0,358.44 L771.0,358.47 L772.0,358.49 L773.0,358.52 L774.0,358.55 L775.0,358.57 L776.0,358.60 L777.0,358.63 L778.0,358.67 L779.0,358.70 L780.0,358.73 L781.0,358.77 L782.0,358.80 L783.0,358.84 L784.0,358.87 L785.0,358.90 L786.0,358.93 L787.0,358.96 L788.0,358.98 L789.0,359.00 L790.0,359.02 L791.0,359.03 L792.0,359.03 L793.0,359.03 L794.0,359.03 L795.0,359.01 L796.0,358.99 L797.0,358.96 L798.0,358.93 L799.0,358.89 L800.0,358.84 L801.0,358.79 L802.0,358.73 L803.0,358.66 L804.0,358.59 L805.0,358.51 L806.0,358.44 L807.0,358.35 L808.0,358.27 L809.0,358.18 L810.0,358.08 L811.0,357.99 L812.0,357.89 L813.0,357.80 L814.0,357.70 L815.0,357.60 L816.0,357.50 L817.0,357.40 L818.0,357.30 L819.0,357.21 L820.0,357.11 L821.0,357.01 L822.0,356.92 L823.0,356.83 L824.0,356.75 L825.0,356.66 L826.0,356.59 L827.0,356.51 L828.0,356.44 L829.0,356.38 L830.0,356.32 L831.0,356.27 L832.0,356.22 L833.0,356.18 L834.0,356.15 L835.0,356.13 L836.0,356.11 L837.0,356.10 L838.0,356.10 L839.0,356.11 L840.0,356.12 L841.0,356.14 L842.0,356.17 L843.0,356.20 L844.0,356.24 L845.0,356.28 L846.0,356.33 L847.0,356.38 L848.0,356.43 L849.0,356.48 L850.0,356.54 L851.0,356.60 L852.0,356.66 L853.0,356.72 L854.0,356.78 L855.0,356.84 L856.0,356.90 L857.0,356.96 L858.0,357.01 L859.0,357.06 L860.0,357.11 L861.0,357.16 L862.0,357.20 L863.0,357.24 L864.0,357.27 L865.0,357.30 L866.0,357.32 L867.0,357.33 L868.0,357.34 L869.0,357.34 L870.0,357.33 L871.0,357.31 L872.0,357.29 L873.0,357.25 L874.0,357.21 L875.0,357.15 L876.0,357.08 L877.0,357.00 L878.0,356.91 L879.0,356.81 L880.0,356.69 L881.0,356.56 L882.0,356.43 L883.0,356.30 L884.0,356.20" stroke="#0000ff"/>
<path d="M96.0,403.72 L97.0,403.88 L98.0,404.07 L99.0,404.30 L100.0,404.55 L101.0,404.82 L102.0,405.10 L103.0,405.40 L104.0,405.70 L105.0,406.01 L106.0,406.32 L107.0,406.64 L108.0,406.96 L109.0,407.29 L110.0,407.63 L111.0,407.97 L112.0,408.32 L113.0,408.68 L114.0,409.04 L115.0,409.41 L116.0,409.78 L117.0,410.16 L118.0,410.54 L119.0,410.93 L120.0,411.32 L121.0,411.71 L122.0,412.11 L123.0,412.51 L124.0,412.91 L125.0,413.31 L126.0,413.72 L127.0,414.13 L128.0,414.54 L129.0,414.96 L130.0,415.38 L131.0,415.80 L132.0,416.22 L133.0,416.65 L134.0,417.08 L135.0,417.51 L136.0,417.94 L137.0,418.37 L138.0,418.81 L139.0,419.25 L140.0,419.69 L141.0,420.13 L142.0,420.58 L143.0,421.03 L144.0,421.48 L145.0,421.93 L146.0,422.38 L147.0,422.83 L148.0,423.29 L149.0,423.74 L150.0,424.19 L151.0,424.64 L152.0,425.09 L153.0,425.54 L154.0,425.99 L155.0,426.43 L156.0,426.88 L157.0,427.32 L158.0,427.77 L159.0,428.22 L160.0,428.66 L161.0,429.11 L162.0,429.57 L163.0,430.03 L164.0,430.49 L165.0,430.95 L166.0,431.42 L167.0,431.90 L168.0,432.37 L169.0,432.86 L170.0,433.34 L171.0,433.84 L172.0,434.33 L173.0,434.83 L174.0,435.33 L175.0,435.84 L176.0,436.35 L177.0,436.86 L178.0,437.38 L179.0,437.90 L180.0,438.42 L181.0,438.95 L182.0,439.48 L183.0,440.02 L184.0,440.56 L185.0,441.11 L186.0,441.66 L187.0,442.21 L188.0,442.77 L189.0,443.32 L190.0,443.88 L191.0,444.43 L192.0,444.99 L193.0,445.54 L194.0,446.09 L195.0,446.64 L196.0,447.19 L197.0,447.73 L198.0,448.28 L199.0,448.82 L200.0,449.37 L201.0,449.92 L202.0,450.46 L203.0,451.01 L204.0,451.57 L205.0,452.12 L206.0,452.68 L207.0,453.24 L208.0,453.80 L209.0,454.37 L210.0,454.93 L211.0,455.50 L212.0,456.07 L213.0,456.64 L214.0,457.22 L215.0,457.81 L216.0,458.40 L217.0,459.01 L218.0,459.64 L219.0,460.28 L220.0,460.95 L221.0,461.65 L222.0,462.37 L223.0,463.12 L224.0,463.90 L225.0,464.70 L226.0,465.52 L227.0,466.35 L228.0,467.17 L229.0,467.97 L230.0,468.76 L231.0,469.53 L232.0,470.28 L233.0,471.01 L234.0,471.73 L235.0,472.44 L236.0,473.14 L237.0,473.83 L238.0,474.54 L239.0,475.25 L240.0,475.97 L241.0,476.70 L242.0,477.45 L243.0,478.21 L244.0,478.99 L245.0,479.77 L246.0,480.56 L247.0,481.36 L248.0,482.16 L249.0,482.96 L250.0,483.76 L251.0,484.55 L252.0,485.34 L253.0,486.12 L254.0,486.90 L255.0,487.67 L256.0,488.44 L257.0,489.20 L258.0,489.96 L259.0,490.71 L260.0,491.46 L261.0,492.21 L262.0,492.94 L263.0,493.67 L264.0,494.40 L265.0,495.12 L266.0,495.83 L267.0,496.54 L268.0,497.24 L269.0,497.94 L270.0,498.64 L271.0,499.35 L272.0,500.05 L273.0,500.76 L274.0,501.48 L275.0,502.20 L276.0,502.92 L277.0,503.66 L278.0,504.39 L279.0,505.13 L280.0,505.88 L281.0,506.62 L282.0,507.36 L283.0,508.10 L284.0,508.83 L285.0,509.56 L286.0,510.29 L287.0,511.01 L288.0,511.72 L289.0,512.43 L290.0,513.14 L291.0,513.84 L292.0,514.54 L293.0,515.25 L294.0,515.95 L295.0,516.65 L296.0,517.35 L297.0,518.06 L298.0,518.77 L299.0,519.48 L300.0,520.19 L301.0,520.90 L302.0,521.61 L303.0,522.31 L304.0,523.01 L305.0,523.70 L306.0,524.38 L307.0,525.04 L308.0,525.70 L309.0,526.34 L310.0,526.97 L311.0,527.59 L312.0,528.20 L313.0,528.81 L314.0,529.41 L315.0,530.01 L316.0,530.61 L317.0,531.21 L318.0,531.82 L319.0,532.44 L320.0,533.06 L321.0,533.69 L322.0,534.32 L323.0,534.96 L324.0,535.60 L325.0,536.25 L326.0,536.89 L327.0,537.54 L328.0,538.18 L329.0,538.82 L330.0,539.46 L331.0,540.10 L332.0,540.74 L333.0,541.37 L334.0,542.00 L335.0,542.63 L336.0,543.26 L337.0,543.89 L338.0,544.51 L339.0,545.13 L340.0,545.75 L341.0,546.37 L342.0,546.99 L343.0,547.60 L344.0,548.20 L345.0,548.81 L346.0,549.41 L347.0,550.02 L348.0,550.62 L349.0,551.21 L350.0,551.81 L351.0,552.41 L352.0,553.01 L353.0,553.61 L354.0,554.21 L355.0,554.81 L356.0,555.41 L357.0,556.02 L358.0,556.62 L359.0,557.23 L360.0,557.83 L361.0,558.43 L362.0,559.03 L363.0,559.62 L364.0,560.21 L365.0,560.80 L366.0,561.38 L367.0,561.95 L368.0,562.52 L369.0,563.09 L370.0,563.65 L371.0,564.20 L372.0,564.76 L373.0,565.30 L374.0,565.85 L375.0,566.39 L376.0,566.92 L377.0,567.45 L378.0,567.98 L379.0,568.49 L380.0,569.01 L381.0,569.52 L382.0,570.03 L383.0,570.53 L384.0,571.03 L385.0,571.52 L386.0,572.02 L387.0,572.52 L388.0,573.02 L389.0,573.52 L390.0,574.03 L391.0,574.53 L392.0,575.05 L393.0,575.56 L394.0,576.08 L395.0,576.59 L396.0,577.10 L397.0,577.60 L398.0,578.09 L399.0,578.57 L400.0,579.04 L401.0,579.49 L402.0,579.92 L403.0,580.33 L404.0,580.73 L405.0,581.12 L406.0,581.49 L407.0,581.85 L408.0,582.20 L409.0,582.55 L410.0,582.89 L411.0,583.23 L412.0,583.56 L413.0,583.90 L414.0,584.23 L415.0,584.55 L416.0,584.86 L417.0,585.14 L418.0,585.38 L419.0,585.58 L420.0,585.77 L421.0,585.89 L422.0,585.95 L423.0,585.98 L424.0,586.00 L425.0,586.00 L426.0,586.00 L427.0,586.00 L428.0,586.00 L429.0,586.00 L430.0,586.00 L431.0,586.00 L432.0,585.96 L433.0,585.79 L434.0,585.46 L435.0,585.00 L436.0,584.47 L437.0,583.85 L438.0,583.12 L439.0,582.32 L440.0,581.45 L441.0,580.50 L442.0,579.54 L443.0,578.88 L444.0,578.85 L445.0,579.54 L446.0,580.70 L447.0,582.02 L448.0,583.43 L449.0,584.97 L450.0,586.54 L451.0,587.96 L452.0,589.12 L453.0,590.04 L454.0,590.85 L455.0,591.60 L456.0,592.29 L457.0,592.94 L458.0,593.53 L459.0,594.09 L460.0,594.61 L461.0,595.10 L462.0,595.55 L463.0,595.97 L464.0,596.36 L465.0,596.72 L466.0,597.06 L467.0,597.38 L468.0,597.69 L469.0,598.00 L470.0,598.29 L471.0,598.59 L472.0,598.88 L473.0,599.17 L474.0,599.47 L475.0,599.78 L476.0,600.11 L477.0,600.43 L478.0,600.75 L479.0,601.04 L480.0,601.30 L481.0,601.52 L482.0,601.69 L483.0,601.82 L484.0,601.90 L485.0,601.95 L486.0,601.97 L487.0,601.99 L488.0,602.00 L489.0,602.00 L490.0,602.00 L491.0,602.01 L492.0,602.01 L493.0,602.02 L494.0,602.03 L495.0,602.05 L496.0,602.06 L497.0,602.08 L498.0,602.10 L499.0,602.12 L500.0,602.14 L501.0,602.15 L502.0,602.17 L503.0,602.18 L504.0,602.19 L505.0,602.19 L506.0,602.20 L507.0,602.20 L508.0,602.20 L509.0,602.20 L510.0,602.20 L511.0,602.20 L512.0,602.20 L513.0,602.20 L514.0,602.20 L515.0,602.21 L516.0,602.22 L517.0,602.23 L518.0,602.24 L519.0,602.26 L520.0,602.28 L521.0,602.31 L522.0,602.34 L523.0,602.38 L524.0,602.42 L525.0,602.46 L526.0,602.51 L527.0,602.56 L528.0,602.61 L529.0,602.67 L530.0,602.73 L531.0,602.82 L532.0,602.92 L533.0,603.05 L534.0,603.24 L535.0,603.53 L536.0,603.98 L537.0,604.56 L538.0,605.25 L539.0,606.01 L540.0,606.84 L541.0,607.79 L542.0,608.90 L543.0,610.13 L544.0,611.44 L545.0,612.74 L546.0,614.05 L547.0,615.43 L548.0,616.78 L549.0,617.73 L550.0,618.04 L551.0,617.89 L552.0,617.50 L553.0,616.98 L554.0,616.33 L555.0,615.47 L556.0,614.35 L557.0,613.01 L558.0,611.53 L559.0,609.86 L560.0,608.01 L561.0,606.16 L562.0,604.47 L563.0,602.99 L564.0,601.62 L565.0,600.33 L566.0,599.10 L567.0,597.94 L568.0,596.84 L569.0,595.80 L570.0,594.82 L571.0,593.95 L572.0,593.12 L573.0,592.33 L574.0,591.55 L575.0,590.79 L576.0,590.03 L577.0,589.27 L578.0,588.52 L579.0,587.78 L580.0,587.05 L581.0,586.32 L582.0,585.61 L583.0,584.91 L584.0,584.22 L585.0,583.55 L586.0,582.90 L587.0,582.27 L588.0,581.66 L589.0,581.08 L590.0,580.53 L591.0,580.00 L592.0,579.49 L593.0,579.01 L594.0,578.54 L595.0,578.09 L596.0,577.65 L597.0,577.21 L598.0,576.77 L599.0,576.32 L600.0,575.87 L601.0,575.40 L602.0,574.92 L603.0,574.42 L604.0,573.91 L605.0,573.39 L606.0,572.86 L607.0,572.31 L608.0,571.76 L609.0,571.21 L610.0,570.65 L611.0,570.09 L612.0,569.53 L613.0,568.97 L614.0,568.41 L615.0,567.86 L616.0,567.30 L617.0,566.75 L618.0,566.20 L619.0,565.65 L620.0,565.10 L621.0,564.55 L622.0,564.00 L623.0,563.45 L624.0,562.91 L625.0,562.37 L626.0,561.83 L627.0,561.29 L628.0,560.76 L629.0,560.23 L630.0,559.70 L631.0,559.17 L632.0,558.63 L633.0,558.08 L634.0,557.52 L635.0,556.93 L636.0,556.32 L637.0,555.69 L638.0,555.02 L639.0,554.31 L640.0,553.60 L641.0,552.85 L642.0,552.06 L643.0,551.23 L644.0,550.39 L645.0,549.56 L646.0,548.71 L647.0,547.85 L648.0,546.95 L649.0,546.00 L650.0,544.95 L651.0,543.74 L652.0,542.39 L653.0,540.96 L654.0,539.56 L655.0,538.30 L656.0,537.26 L657.0,536.39 L658.0,535.67 L659.0,535.10 L660.0,534.72 L661.0,534.47 L662.0,534.28 L663.0,534.12 L664.0,533.97 L665.0,533.80 L666.0,533.58 L667.0,533.31 L668.0,533.00 L669.0,532.65 L670.0,532.27 L671.0,531.87 L672.0,531.45 L673.0,531.02 L674.0,530.59 L675.0,530.14 L676.0,529.69 L677.0,529.22 L678.0,528.74 L679.0,528.26 L680.0,527.76 L681.0,527.25 L682.0,526.73 L683.0,526.20 L684.0,525.66 L685.0,525.10 L686.0,524.53 L687.0,523.94 L688.0,523.34 L689.0,522.71 L690.0,522.08 L691.0,521.43 L692.0,520.76 L693.0,520.09 L694.0,519.40 L695.0,518.71 L696.0,518.01 L697.0,517.30 L698.0,516.60 L699.0,515.90 L700.0,515.20 L701.0,514.50 L702.0,513.81 L703.0,513.13 L704.0,512.46 L705.0,511.80 L706.0,511.15 L707.0,510.50 L708.0,509.87 L709.0,509.24 L710.0,508.62 L711.0,508.01 L712.0,507.40 L713.0,506.79 L714.0,506.19 L715.0,505.59 L716.0,504.99 L717.0,504.40 L718.0,503.81 L719.0,503.22 L720.0,502.62 L721.0,502.04 L722.0,501.45 L723.0,500.86 L724.0,500.26 L725.0,499.67 L726.0,499.08 L727.0,498.49 L728.0,497.89 L729.0,497.30 L730.0,496.70 L731.0,496.11 L732.0,495.51 L733.0,494.92 L734.0,494.32 L735.0,493.73 L736.0,493.13 L737.0,492.54 L738.0,491.95 L739.0,491.35 L740.0,490.76 L741.0,490.16 L742.0,489.57 L743.0,488.97 L744.0,488.37 L745.0,487.77 L746.0,487.16 L747.0,486.56 L748.0,485.95 L749.0,485.34 L750.0,484.72 L751.0,484.11 L752.0,483.49 L753.0,482.86 L754.0,482.24 L755.0,481.61 L756.0,480.98 L757.0,480.35 L758.0,479.71 L759.0,479.08 L760.0,478.44 L761.0,477.80 L762.0,477.15 L763.0,476.51 L764.0,475.86 L765.0,475.21 L766.0,474.56 L767.0,473.90 L768.0,473.25 L769.0,472.59 L770.0,471.93 L771.0,471.26 L772.0,470.60 L773.0,469.93 L774.0,469.25 L775.0,468.58 L776.0,467.90 L777.0,467.21 L778.0,466.52 L779.0,465.82 L780.0,465.12 L781.0,464.41 L782.0,463.70 L783.0,462.99 L784.0,462.27 L785.0,461.55 L786.0,460.84 L787.0,460.12 L788.0,459.41 L789.0,458.69 L790.0,457.99 L791.0,457.28 L792.0,456.58 L793.0,455.89 L794.0,455.20 L795.0,454.52 L796.0,453.85 L797.0,453.19 L798.0,452.53 L799.0,451.88 L800.0,451.24 L801.0,450.60 L802.0,449.96 L803.0,449.33 L804.0,448.70 L805.0,448.08 L806.0,447.46 L807.0,446.85 L808.0,446.24 L809.0,445.63 L810.0,445.03 L811.0,444.43 L812.0,443.84 L813.0,443.25 L814.0,442.67 L815.0,442.09 L816.0,441.52 L817.0,440.95 L818.0,440.38 L819.0,439.82 L820.0,439.27 L821.0,438.72 L822.0,438.17 L823.0,437.63 L824.0,437.09 L825.0,436.56 L826.0,436.03 L827.0,435.50 L828.0,434.98 L829.0,434.46 L830.0,433.95 L831.0,433.44 L832.0,432.93 L833.0,432.43 L834.0,431.93 L835.0,431.44 L836.0,430.95 L837.0,430.47 L838.0,429.99 L839.0,429.51 L840.0,429.05 L841.0,428.58 L842.0,428.12 L843.0,427.67 L844.0,427.22 L845.0,426.77 L846.0,426.33 L847.0,425.89 L848.0,425.46 L849.0,425.03 L850.0,424.60 L851.0,424.18 L852.0,423.76 L853.0,423.34 L854.0,422.93 L855.0,422.52 L856.0,422.12 L857.0,421.72 L858.0,421.33 L859.0,420.94 L860.0,420.56 L861.0,420.18 L862.0,419.80 L863.0,419.44 L864.0,419.08 L865.0,418.72 L866.0,418.37 L867.0,418.02 L868.0,417.68 L869.0,417.35 L870.0,417.02 L871.0,416.70 L872.0,416.38 L873.0,416.06 L874.0,415.75 L875.0,415.45 L876.0,415.15 L877.0,414.85 L878.0,414.57 L879.0,414.29 L880.0,414.03 L881.0,413.78 L882.0,413.56 L883.0,413.37 L884.0,413.22" stroke="#000" stroke-width="3.1"/>
</g>
<g stroke="#000" fill="none">
<line x1="287.8" y1="106" x2="397.8" y2="369.6" stroke-width="1.8" stroke-dasharray="8.4 7.9"/>
<line x1="661" y1="341.3" x2="754.6" y2="77.2" stroke-width="1.8" stroke-dasharray="8.4 7.9"/>
<line x1="443.7" y1="466.9" x2="443.7" y2="587" stroke-width="2.8" stroke-dasharray="13.4 13.3"/>
<line x1="659.6" y1="465.8" x2="659.6" y2="586" stroke-width="2.8" stroke-dasharray="13.4 13.3"/>
<line x1="450" y1="499" x2="653" y2="499" stroke-width="1.4"/>
<line x1="216.8" y1="475" x2="216.8" y2="585.7" stroke-width="1.5"/>
</g>
<g fill="#000" stroke="none">
<polygon points="444.8,499 456.6,495.8 456.6,502.2"/>
<polygon points="659.6,499 648.8,495.8 648.8,502.2"/>
<polygon points="216.8,463.8 210.7,480.1 222.8,480.1"/>
</g>
<g stroke="#000" stroke-width="3" fill="none">
<rect x="361.3" y="47.5" width="35.6" height="45.8"/>
<rect x="685.2" y="44.4" width="35.3" height="45.6"/>
</g>
<g stroke="#000" stroke-width="2.6" fill="none">
<rect x="96.5" y="13.2" width="787.2" height="640.1"/>
</g>
<g stroke="#000" stroke-width="2.6" fill="none" stroke-linecap="round">
<line x1="96.5" y1="653.3" x2="96.5" y2="659.9"/>
<line x1="96.5" y1="13.2" x2="96.5" y2="7.299999999999999"/>
<line x1="212.2" y1="653.3" x2="212.2" y2="664.8"/>
<line x1="212.2" y1="13.2" x2="212.2" y2="1.5"/>
<line x1="328.0" y1="653.3" x2="328.0" y2="659.9"/>
<line x1="328.0" y1="13.2" x2="328.0" y2="7.299999999999999"/>
<line x1="443.8" y1="653.3" x2="443.8" y2="664.8"/>
<line x1="443.8" y1="13.2" x2="443.8" y2="1.5"/>
<line x1="559.5" y1="653.3" x2="559.5" y2="659.9"/>
<line x1="559.5" y1="13.2" x2="559.5" y2="7.299999999999999"/>
<line x1="675.2" y1="653.3" x2="675.2" y2="664.8"/>
<line x1="675.2" y1="13.2" x2="675.2" y2="1.5"/>
<line x1="791.0" y1="653.3" x2="791.0" y2="659.9"/>
<line x1="791.0" y1="13.2" x2="791.0" y2="7.299999999999999"/>
<line x1="96.5" y1="13.2" x2="84.7" y2="13.2"/>
<line x1="96.5" y1="119.6" x2="90.3" y2="119.6"/>
<line x1="96.5" y1="226.3" x2="84.7" y2="226.3"/>
<line x1="96.5" y1="332.9" x2="90.3" y2="332.9"/>
<line x1="96.5" y1="439.9" x2="84.7" y2="439.9"/>
<line x1="96.5" y1="546.3" x2="90.3" y2="546.3"/>
<line x1="96.5" y1="653.3" x2="84.7" y2="653.3"/>
</g>
<g font-size="48" text-anchor="middle">
<text x="283.3" y="83">8</text>
<text x="337" y="79">7</text>
<text x="380.3" y="86.4">6</text>
<text x="438.3" y="93">5</text>
<text x="585" y="94.6">4</text>
<text x="642.4" y="90.1">3</text>
<text x="703.5" y="83.7">2</text>
<text x="762" y="65.5">1</text>
<text x="212" y="710.2">-500</text>
<text x="443.8" y="710">0</text>
<text x="675.6" y="710">500</text>
</g>
<g font-size="43.5">
<text x="896.5" y="166.4">680 <tspan x="970">G</tspan></text>
<text x="895.5" y="237.7">480 <tspan x="970">G</tspan></text>
<text x="896" y="303.1">380 <tspan x="970">G</tspan></text>
<text x="896.5" y="368.7">300 <tspan x="970">G</tspan></text>
</g>
<text x="527.3" y="796" font-size="56" text-anchor="middle">Laser frequency detuning (MHz)</text>
<text transform="translate(40.3,382.9) rotate(-90)" font-size="57" text-anchor="middle">dSR (arb. un.)</text>
<text x="117.8" y="623.6" font-size="36.3" style="stroke-width:0.4px">Reference (<tspan font-style="italic">B</tspan> = 0)</text>
<text x="477.6" y="540.7" font-size="34.3" style="stroke-width:0.4px">462 MHz</text>
</svg>
</body></html>
